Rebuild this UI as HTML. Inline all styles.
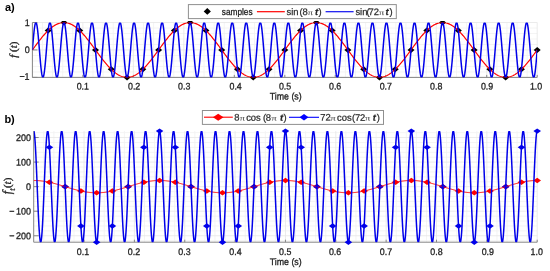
<!DOCTYPE html><html><head><meta charset="utf-8"><style>html,body{margin:0;padding:0;background:#fff;overflow:hidden}svg{display:block}</style></head><body>
<svg width="550" height="271" viewBox="0 0 550 271">
<rect width="550" height="271" fill="#fff"/>
<line x1="42.50" y1="22.50" x2="42.50" y2="77.40" stroke="#f1f1f1" stroke-width="0.8" />
<line x1="52.59" y1="22.50" x2="52.59" y2="77.40" stroke="#f1f1f1" stroke-width="0.8" />
<line x1="62.69" y1="22.50" x2="62.69" y2="77.40" stroke="#f1f1f1" stroke-width="0.8" />
<line x1="72.78" y1="22.50" x2="72.78" y2="77.40" stroke="#f1f1f1" stroke-width="0.8" />
<line x1="92.98" y1="22.50" x2="92.98" y2="77.40" stroke="#f1f1f1" stroke-width="0.8" />
<line x1="103.07" y1="22.50" x2="103.07" y2="77.40" stroke="#f1f1f1" stroke-width="0.8" />
<line x1="113.17" y1="22.50" x2="113.17" y2="77.40" stroke="#f1f1f1" stroke-width="0.8" />
<line x1="123.26" y1="22.50" x2="123.26" y2="77.40" stroke="#f1f1f1" stroke-width="0.8" />
<line x1="143.46" y1="22.50" x2="143.46" y2="77.40" stroke="#f1f1f1" stroke-width="0.8" />
<line x1="153.55" y1="22.50" x2="153.55" y2="77.40" stroke="#f1f1f1" stroke-width="0.8" />
<line x1="163.65" y1="22.50" x2="163.65" y2="77.40" stroke="#f1f1f1" stroke-width="0.8" />
<line x1="173.74" y1="22.50" x2="173.74" y2="77.40" stroke="#f1f1f1" stroke-width="0.8" />
<line x1="193.94" y1="22.50" x2="193.94" y2="77.40" stroke="#f1f1f1" stroke-width="0.8" />
<line x1="204.03" y1="22.50" x2="204.03" y2="77.40" stroke="#f1f1f1" stroke-width="0.8" />
<line x1="214.13" y1="22.50" x2="214.13" y2="77.40" stroke="#f1f1f1" stroke-width="0.8" />
<line x1="224.22" y1="22.50" x2="224.22" y2="77.40" stroke="#f1f1f1" stroke-width="0.8" />
<line x1="244.42" y1="22.50" x2="244.42" y2="77.40" stroke="#f1f1f1" stroke-width="0.8" />
<line x1="254.51" y1="22.50" x2="254.51" y2="77.40" stroke="#f1f1f1" stroke-width="0.8" />
<line x1="264.61" y1="22.50" x2="264.61" y2="77.40" stroke="#f1f1f1" stroke-width="0.8" />
<line x1="274.70" y1="22.50" x2="274.70" y2="77.40" stroke="#f1f1f1" stroke-width="0.8" />
<line x1="294.90" y1="22.50" x2="294.90" y2="77.40" stroke="#f1f1f1" stroke-width="0.8" />
<line x1="304.99" y1="22.50" x2="304.99" y2="77.40" stroke="#f1f1f1" stroke-width="0.8" />
<line x1="315.09" y1="22.50" x2="315.09" y2="77.40" stroke="#f1f1f1" stroke-width="0.8" />
<line x1="325.18" y1="22.50" x2="325.18" y2="77.40" stroke="#f1f1f1" stroke-width="0.8" />
<line x1="345.38" y1="22.50" x2="345.38" y2="77.40" stroke="#f1f1f1" stroke-width="0.8" />
<line x1="355.47" y1="22.50" x2="355.47" y2="77.40" stroke="#f1f1f1" stroke-width="0.8" />
<line x1="365.57" y1="22.50" x2="365.57" y2="77.40" stroke="#f1f1f1" stroke-width="0.8" />
<line x1="375.66" y1="22.50" x2="375.66" y2="77.40" stroke="#f1f1f1" stroke-width="0.8" />
<line x1="395.86" y1="22.50" x2="395.86" y2="77.40" stroke="#f1f1f1" stroke-width="0.8" />
<line x1="405.95" y1="22.50" x2="405.95" y2="77.40" stroke="#f1f1f1" stroke-width="0.8" />
<line x1="416.05" y1="22.50" x2="416.05" y2="77.40" stroke="#f1f1f1" stroke-width="0.8" />
<line x1="426.14" y1="22.50" x2="426.14" y2="77.40" stroke="#f1f1f1" stroke-width="0.8" />
<line x1="446.34" y1="22.50" x2="446.34" y2="77.40" stroke="#f1f1f1" stroke-width="0.8" />
<line x1="456.43" y1="22.50" x2="456.43" y2="77.40" stroke="#f1f1f1" stroke-width="0.8" />
<line x1="466.53" y1="22.50" x2="466.53" y2="77.40" stroke="#f1f1f1" stroke-width="0.8" />
<line x1="476.62" y1="22.50" x2="476.62" y2="77.40" stroke="#f1f1f1" stroke-width="0.8" />
<line x1="496.82" y1="22.50" x2="496.82" y2="77.40" stroke="#f1f1f1" stroke-width="0.8" />
<line x1="506.91" y1="22.50" x2="506.91" y2="77.40" stroke="#f1f1f1" stroke-width="0.8" />
<line x1="517.01" y1="22.50" x2="517.01" y2="77.40" stroke="#f1f1f1" stroke-width="0.8" />
<line x1="527.10" y1="22.50" x2="527.10" y2="77.40" stroke="#f1f1f1" stroke-width="0.8" />
<line x1="32.40" y1="71.91" x2="537.20" y2="71.91" stroke="#f1f1f1" stroke-width="0.8" />
<line x1="32.40" y1="66.42" x2="537.20" y2="66.42" stroke="#f1f1f1" stroke-width="0.8" />
<line x1="32.40" y1="60.93" x2="537.20" y2="60.93" stroke="#f1f1f1" stroke-width="0.8" />
<line x1="32.40" y1="55.44" x2="537.20" y2="55.44" stroke="#f1f1f1" stroke-width="0.8" />
<line x1="32.40" y1="44.46" x2="537.20" y2="44.46" stroke="#f1f1f1" stroke-width="0.8" />
<line x1="32.40" y1="38.97" x2="537.20" y2="38.97" stroke="#f1f1f1" stroke-width="0.8" />
<line x1="32.40" y1="33.48" x2="537.20" y2="33.48" stroke="#f1f1f1" stroke-width="0.8" />
<line x1="32.40" y1="27.99" x2="537.20" y2="27.99" stroke="#f1f1f1" stroke-width="0.8" />
<line x1="82.88" y1="22.50" x2="82.88" y2="77.40" stroke="#e6e6e6" stroke-width="0.8" />
<line x1="133.36" y1="22.50" x2="133.36" y2="77.40" stroke="#e6e6e6" stroke-width="0.8" />
<line x1="183.84" y1="22.50" x2="183.84" y2="77.40" stroke="#e6e6e6" stroke-width="0.8" />
<line x1="234.32" y1="22.50" x2="234.32" y2="77.40" stroke="#e6e6e6" stroke-width="0.8" />
<line x1="284.80" y1="22.50" x2="284.80" y2="77.40" stroke="#e6e6e6" stroke-width="0.8" />
<line x1="335.28" y1="22.50" x2="335.28" y2="77.40" stroke="#e6e6e6" stroke-width="0.8" />
<line x1="385.76" y1="22.50" x2="385.76" y2="77.40" stroke="#e6e6e6" stroke-width="0.8" />
<line x1="436.24" y1="22.50" x2="436.24" y2="77.40" stroke="#e6e6e6" stroke-width="0.8" />
<line x1="486.72" y1="22.50" x2="486.72" y2="77.40" stroke="#e6e6e6" stroke-width="0.8" />
<line x1="537.20" y1="22.50" x2="537.20" y2="77.40" stroke="#e6e6e6" stroke-width="0.8" />
<line x1="32.40" y1="22.50" x2="537.20" y2="22.50" stroke="#e6e6e6" stroke-width="0.8" />
<line x1="32.40" y1="49.95" x2="537.20" y2="49.95" stroke="#e6e6e6" stroke-width="0.8" />
<line x1="32.40" y1="77.40" x2="537.20" y2="77.40" stroke="#e6e6e6" stroke-width="0.8" />
<path d="M32.40,22.50 V77.40 H537.20" fill="none" stroke="#868686" stroke-width="1"/>
<line x1="82.88" y1="77.40" x2="82.88" y2="74.90" stroke="#868686" stroke-width="1" />
<line x1="133.36" y1="77.40" x2="133.36" y2="74.90" stroke="#868686" stroke-width="1" />
<line x1="183.84" y1="77.40" x2="183.84" y2="74.90" stroke="#868686" stroke-width="1" />
<line x1="234.32" y1="77.40" x2="234.32" y2="74.90" stroke="#868686" stroke-width="1" />
<line x1="284.80" y1="77.40" x2="284.80" y2="74.90" stroke="#868686" stroke-width="1" />
<line x1="335.28" y1="77.40" x2="335.28" y2="74.90" stroke="#868686" stroke-width="1" />
<line x1="385.76" y1="77.40" x2="385.76" y2="74.90" stroke="#868686" stroke-width="1" />
<line x1="436.24" y1="77.40" x2="436.24" y2="74.90" stroke="#868686" stroke-width="1" />
<line x1="486.72" y1="77.40" x2="486.72" y2="74.90" stroke="#868686" stroke-width="1" />
<line x1="537.20" y1="77.40" x2="537.20" y2="74.90" stroke="#868686" stroke-width="1" />
<line x1="32.40" y1="22.50" x2="37.40" y2="22.50" stroke="#868686" stroke-width="1" />
<line x1="32.40" y1="49.95" x2="37.40" y2="49.95" stroke="#868686" stroke-width="1" />
<line x1="32.40" y1="77.40" x2="37.40" y2="77.40" stroke="#868686" stroke-width="1" />
<clipPath id="ct"><rect x="26.40" y="21.00" width="516.80" height="60.90"/></clipPath>
<g clip-path="url(#ct)">
<polygon points="48.17,27.54 51.67,30.54 48.17,33.54 44.67,30.54" fill="#000"/>
<polygon points="63.95,19.50 67.45,22.50 63.95,25.50 60.45,22.50" fill="#000"/>
<polygon points="79.72,27.54 83.22,30.54 79.72,33.54 76.22,30.54" fill="#000"/>
<polygon points="95.50,46.95 99.00,49.95 95.50,52.95 92.00,49.95" fill="#000"/>
<polygon points="111.28,66.36 114.78,69.36 111.28,72.36 107.78,69.36" fill="#000"/>
<polygon points="127.05,74.40 130.55,77.40 127.05,80.40 123.55,77.40" fill="#000"/>
<polygon points="142.83,66.36 146.33,69.36 142.83,72.36 139.33,69.36" fill="#000"/>
<polygon points="158.60,46.95 162.10,49.95 158.60,52.95 155.10,49.95" fill="#000"/>
<polygon points="174.38,27.54 177.88,30.54 174.38,33.54 170.88,30.54" fill="#000"/>
<polygon points="190.15,19.50 193.65,22.50 190.15,25.50 186.65,22.50" fill="#000"/>
<polygon points="205.93,27.54 209.43,30.54 205.93,33.54 202.43,30.54" fill="#000"/>
<polygon points="221.70,46.95 225.20,49.95 221.70,52.95 218.20,49.95" fill="#000"/>
<polygon points="237.48,66.36 240.98,69.36 237.48,72.36 233.98,69.36" fill="#000"/>
<polygon points="253.25,74.40 256.75,77.40 253.25,80.40 249.75,77.40" fill="#000"/>
<polygon points="269.03,66.36 272.53,69.36 269.03,72.36 265.53,69.36" fill="#000"/>
<polygon points="284.80,46.95 288.30,49.95 284.80,52.95 281.30,49.95" fill="#000"/>
<polygon points="300.57,27.54 304.07,30.54 300.57,33.54 297.07,30.54" fill="#000"/>
<polygon points="316.35,19.50 319.85,22.50 316.35,25.50 312.85,22.50" fill="#000"/>
<polygon points="332.12,27.54 335.62,30.54 332.12,33.54 328.62,30.54" fill="#000"/>
<polygon points="347.90,46.95 351.40,49.95 347.90,52.95 344.40,49.95" fill="#000"/>
<polygon points="363.68,66.36 367.18,69.36 363.68,72.36 360.18,69.36" fill="#000"/>
<polygon points="379.45,74.40 382.95,77.40 379.45,80.40 375.95,77.40" fill="#000"/>
<polygon points="395.23,66.36 398.73,69.36 395.23,72.36 391.73,69.36" fill="#000"/>
<polygon points="411.00,46.95 414.50,49.95 411.00,52.95 407.50,49.95" fill="#000"/>
<polygon points="426.78,27.54 430.28,30.54 426.78,33.54 423.28,30.54" fill="#000"/>
<polygon points="442.55,19.50 446.05,22.50 442.55,25.50 439.05,22.50" fill="#000"/>
<polygon points="458.33,27.54 461.83,30.54 458.33,33.54 454.83,30.54" fill="#000"/>
<polygon points="474.10,46.95 477.60,49.95 474.10,52.95 470.60,49.95" fill="#000"/>
<polygon points="489.88,66.36 493.38,69.36 489.88,72.36 486.38,69.36" fill="#000"/>
<polygon points="505.65,74.40 509.15,77.40 505.65,80.40 502.15,77.40" fill="#000"/>
<polygon points="521.43,66.36 524.93,69.36 521.43,72.36 517.93,69.36" fill="#000"/>
<polygon points="537.20,46.95 540.70,49.95 537.20,52.95 533.70,49.95" fill="#000"/>
</g>
<clipPath id="ctl"><rect x="32.40" y="22.50" width="504.80" height="54.90"/></clipPath>
<g clip-path="url(#ctl)">
<polyline fill="none" stroke="#ff0000" stroke-width="1.2" points="32.40,49.95 33.03,49.09 33.66,48.23 34.29,47.37 34.92,46.51 35.55,45.66 36.19,44.81 36.82,43.96 37.45,43.12 38.08,42.29 38.71,41.47 39.34,40.65 39.97,39.84 40.60,39.05 41.23,38.26 41.87,37.49 42.50,36.73 43.13,35.98 43.76,35.24 44.39,34.52 45.02,33.82 45.65,33.13 46.28,32.45 46.91,31.80 47.54,31.16 48.17,30.54 48.81,29.94 49.44,29.36 50.07,28.80 50.70,28.26 51.33,27.74 51.96,27.25 52.59,26.77 53.22,26.32 53.85,25.90 54.48,25.49 55.12,25.11 55.75,24.76 56.38,24.43 57.01,24.12 57.64,23.84 58.27,23.59 58.90,23.36 59.53,23.16 60.16,22.99 60.80,22.84 61.43,22.72 62.06,22.62 62.69,22.55 63.32,22.51 63.95,22.50 64.58,22.51 65.21,22.55 65.84,22.62 66.47,22.72 67.11,22.84 67.74,22.99 68.37,23.16 69.00,23.36 69.63,23.59 70.26,23.84 70.89,24.12 71.52,24.43 72.15,24.76 72.78,25.11 73.42,25.49 74.05,25.90 74.68,26.32 75.31,26.77 75.94,27.25 76.57,27.74 77.20,28.26 77.83,28.80 78.46,29.36 79.09,29.94 79.72,30.54 80.36,31.16 80.99,31.80 81.62,32.45 82.25,33.13 82.88,33.82 83.51,34.52 84.14,35.24 84.77,35.98 85.40,36.73 86.03,37.49 86.67,38.26 87.30,39.05 87.93,39.84 88.56,40.65 89.19,41.47 89.82,42.29 90.45,43.12 91.08,43.96 91.71,44.81 92.34,45.66 92.98,46.51 93.61,47.37 94.24,48.23 94.87,49.09 95.50,49.95 96.13,50.81 96.76,51.67 97.39,52.53 98.02,53.39 98.66,54.24 99.29,55.09 99.92,55.94 100.55,56.78 101.18,57.61 101.81,58.43 102.44,59.25 103.07,60.06 103.70,60.85 104.33,61.64 104.97,62.41 105.60,63.17 106.23,63.92 106.86,64.66 107.49,65.38 108.12,66.08 108.75,66.77 109.38,67.45 110.01,68.10 110.64,68.74 111.28,69.36 111.91,69.96 112.54,70.54 113.17,71.10 113.80,71.64 114.43,72.16 115.06,72.65 115.69,73.13 116.32,73.58 116.95,74.00 117.59,74.41 118.22,74.79 118.85,75.14 119.48,75.47 120.11,75.78 120.74,76.06 121.37,76.31 122.00,76.54 122.63,76.74 123.26,76.91 123.90,77.06 124.53,77.18 125.16,77.28 125.79,77.35 126.42,77.39 127.05,77.40 127.68,77.39 128.31,77.35 128.94,77.28 129.57,77.18 130.21,77.06 130.84,76.91 131.47,76.74 132.10,76.54 132.73,76.31 133.36,76.06 133.99,75.78 134.62,75.47 135.25,75.14 135.88,74.79 136.52,74.41 137.15,74.00 137.78,73.58 138.41,73.13 139.04,72.65 139.67,72.16 140.30,71.64 140.93,71.10 141.56,70.54 142.19,69.96 142.83,69.36 143.46,68.74 144.09,68.10 144.72,67.45 145.35,66.77 145.98,66.08 146.61,65.38 147.24,64.66 147.87,63.92 148.50,63.17 149.14,62.41 149.77,61.64 150.40,60.85 151.03,60.06 151.66,59.25 152.29,58.43 152.92,57.61 153.55,56.78 154.18,55.94 154.81,55.09 155.45,54.24 156.08,53.39 156.71,52.53 157.34,51.67 157.97,50.81 158.60,49.95 159.23,49.09 159.86,48.23 160.49,47.37 161.12,46.51 161.76,45.66 162.39,44.81 163.02,43.96 163.65,43.12 164.28,42.29 164.91,41.47 165.54,40.65 166.17,39.84 166.80,39.05 167.43,38.26 168.07,37.49 168.70,36.73 169.33,35.98 169.96,35.24 170.59,34.52 171.22,33.82 171.85,33.13 172.48,32.45 173.11,31.80 173.74,31.16 174.38,30.54 175.01,29.94 175.64,29.36 176.27,28.80 176.90,28.26 177.53,27.74 178.16,27.25 178.79,26.77 179.42,26.32 180.05,25.90 180.69,25.49 181.32,25.11 181.95,24.76 182.58,24.43 183.21,24.12 183.84,23.84 184.47,23.59 185.10,23.36 185.73,23.16 186.36,22.99 187.00,22.84 187.63,22.72 188.26,22.62 188.89,22.55 189.52,22.51 190.15,22.50 190.78,22.51 191.41,22.55 192.04,22.62 192.67,22.72 193.31,22.84 193.94,22.99 194.57,23.16 195.20,23.36 195.83,23.59 196.46,23.84 197.09,24.12 197.72,24.43 198.35,24.76 198.98,25.11 199.62,25.49 200.25,25.90 200.88,26.32 201.51,26.77 202.14,27.25 202.77,27.74 203.40,28.26 204.03,28.80 204.66,29.36 205.29,29.94 205.93,30.54 206.56,31.16 207.19,31.80 207.82,32.45 208.45,33.13 209.08,33.82 209.71,34.52 210.34,35.24 210.97,35.98 211.60,36.73 212.24,37.49 212.87,38.26 213.50,39.05 214.13,39.84 214.76,40.65 215.39,41.47 216.02,42.29 216.65,43.12 217.28,43.96 217.91,44.81 218.55,45.66 219.18,46.51 219.81,47.37 220.44,48.23 221.07,49.09 221.70,49.95 222.33,50.81 222.96,51.67 223.59,52.53 224.22,53.39 224.86,54.24 225.49,55.09 226.12,55.94 226.75,56.78 227.38,57.61 228.01,58.43 228.64,59.25 229.27,60.06 229.90,60.85 230.53,61.64 231.17,62.41 231.80,63.17 232.43,63.92 233.06,64.66 233.69,65.38 234.32,66.08 234.95,66.77 235.58,67.45 236.21,68.10 236.84,68.74 237.48,69.36 238.11,69.96 238.74,70.54 239.37,71.10 240.00,71.64 240.63,72.16 241.26,72.65 241.89,73.13 242.52,73.58 243.15,74.00 243.79,74.41 244.42,74.79 245.05,75.14 245.68,75.47 246.31,75.78 246.94,76.06 247.57,76.31 248.20,76.54 248.83,76.74 249.46,76.91 250.10,77.06 250.73,77.18 251.36,77.28 251.99,77.35 252.62,77.39 253.25,77.40 253.88,77.39 254.51,77.35 255.14,77.28 255.77,77.18 256.41,77.06 257.04,76.91 257.67,76.74 258.30,76.54 258.93,76.31 259.56,76.06 260.19,75.78 260.82,75.47 261.45,75.14 262.08,74.79 262.72,74.41 263.35,74.00 263.98,73.58 264.61,73.13 265.24,72.65 265.87,72.16 266.50,71.64 267.13,71.10 267.76,70.54 268.39,69.96 269.03,69.36 269.66,68.74 270.29,68.10 270.92,67.45 271.55,66.77 272.18,66.08 272.81,65.38 273.44,64.66 274.07,63.92 274.70,63.17 275.34,62.41 275.97,61.64 276.60,60.85 277.23,60.06 277.86,59.25 278.49,58.43 279.12,57.61 279.75,56.78 280.38,55.94 281.01,55.09 281.65,54.24 282.28,53.39 282.91,52.53 283.54,51.67 284.17,50.81 284.80,49.95 285.43,49.09 286.06,48.23 286.69,47.37 287.32,46.51 287.96,45.66 288.59,44.81 289.22,43.96 289.85,43.12 290.48,42.29 291.11,41.47 291.74,40.65 292.37,39.84 293.00,39.05 293.63,38.26 294.27,37.49 294.90,36.73 295.53,35.98 296.16,35.24 296.79,34.52 297.42,33.82 298.05,33.13 298.68,32.45 299.31,31.80 299.94,31.16 300.57,30.54 301.21,29.94 301.84,29.36 302.47,28.80 303.10,28.26 303.73,27.74 304.36,27.25 304.99,26.77 305.62,26.32 306.25,25.90 306.88,25.49 307.52,25.11 308.15,24.76 308.78,24.43 309.41,24.12 310.04,23.84 310.67,23.59 311.30,23.36 311.93,23.16 312.56,22.99 313.20,22.84 313.83,22.72 314.46,22.62 315.09,22.55 315.72,22.51 316.35,22.50 316.98,22.51 317.61,22.55 318.24,22.62 318.87,22.72 319.50,22.84 320.14,22.99 320.77,23.16 321.40,23.36 322.03,23.59 322.66,23.84 323.29,24.12 323.92,24.43 324.55,24.76 325.18,25.11 325.82,25.49 326.45,25.90 327.08,26.32 327.71,26.77 328.34,27.25 328.97,27.74 329.60,28.26 330.23,28.80 330.86,29.36 331.49,29.94 332.12,30.54 332.76,31.16 333.39,31.80 334.02,32.45 334.65,33.13 335.28,33.82 335.91,34.52 336.54,35.24 337.17,35.98 337.80,36.73 338.44,37.49 339.07,38.26 339.70,39.05 340.33,39.84 340.96,40.65 341.59,41.47 342.22,42.29 342.85,43.12 343.48,43.96 344.11,44.81 344.75,45.66 345.38,46.51 346.01,47.37 346.64,48.23 347.27,49.09 347.90,49.95 348.53,50.81 349.16,51.67 349.79,52.53 350.42,53.39 351.06,54.24 351.69,55.09 352.32,55.94 352.95,56.78 353.58,57.61 354.21,58.43 354.84,59.25 355.47,60.06 356.10,60.85 356.73,61.64 357.37,62.41 358.00,63.17 358.63,63.92 359.26,64.66 359.89,65.38 360.52,66.08 361.15,66.77 361.78,67.45 362.41,68.10 363.04,68.74 363.68,69.36 364.31,69.96 364.94,70.54 365.57,71.10 366.20,71.64 366.83,72.16 367.46,72.65 368.09,73.13 368.72,73.58 369.35,74.00 369.99,74.41 370.62,74.79 371.25,75.14 371.88,75.47 372.51,75.78 373.14,76.06 373.77,76.31 374.40,76.54 375.03,76.74 375.66,76.91 376.30,77.06 376.93,77.18 377.56,77.28 378.19,77.35 378.82,77.39 379.45,77.40 380.08,77.39 380.71,77.35 381.34,77.28 381.97,77.18 382.61,77.06 383.24,76.91 383.87,76.74 384.50,76.54 385.13,76.31 385.76,76.06 386.39,75.78 387.02,75.47 387.65,75.14 388.28,74.79 388.92,74.41 389.55,74.00 390.18,73.58 390.81,73.13 391.44,72.65 392.07,72.16 392.70,71.64 393.33,71.10 393.96,70.54 394.59,69.96 395.23,69.36 395.86,68.74 396.49,68.10 397.12,67.45 397.75,66.77 398.38,66.08 399.01,65.38 399.64,64.66 400.27,63.92 400.90,63.17 401.54,62.41 402.17,61.64 402.80,60.85 403.43,60.06 404.06,59.25 404.69,58.43 405.32,57.61 405.95,56.78 406.58,55.94 407.21,55.09 407.85,54.24 408.48,53.39 409.11,52.53 409.74,51.67 410.37,50.81 411.00,49.95 411.63,49.09 412.26,48.23 412.89,47.37 413.52,46.51 414.16,45.66 414.79,44.81 415.42,43.96 416.05,43.12 416.68,42.29 417.31,41.47 417.94,40.65 418.57,39.84 419.20,39.05 419.83,38.26 420.47,37.49 421.10,36.73 421.73,35.98 422.36,35.24 422.99,34.52 423.62,33.82 424.25,33.13 424.88,32.45 425.51,31.80 426.14,31.16 426.78,30.54 427.41,29.94 428.04,29.36 428.67,28.80 429.30,28.26 429.93,27.74 430.56,27.25 431.19,26.77 431.82,26.32 432.45,25.90 433.09,25.49 433.72,25.11 434.35,24.76 434.98,24.43 435.61,24.12 436.24,23.84 436.87,23.59 437.50,23.36 438.13,23.16 438.76,22.99 439.40,22.84 440.03,22.72 440.66,22.62 441.29,22.55 441.92,22.51 442.55,22.50 443.18,22.51 443.81,22.55 444.44,22.62 445.07,22.72 445.71,22.84 446.34,22.99 446.97,23.16 447.60,23.36 448.23,23.59 448.86,23.84 449.49,24.12 450.12,24.43 450.75,24.76 451.38,25.11 452.02,25.49 452.65,25.90 453.28,26.32 453.91,26.77 454.54,27.25 455.17,27.74 455.80,28.26 456.43,28.80 457.06,29.36 457.69,29.94 458.33,30.54 458.96,31.16 459.59,31.80 460.22,32.45 460.85,33.13 461.48,33.82 462.11,34.52 462.74,35.24 463.37,35.98 464.00,36.73 464.63,37.49 465.27,38.26 465.90,39.05 466.53,39.84 467.16,40.65 467.79,41.47 468.42,42.29 469.05,43.12 469.68,43.96 470.31,44.81 470.95,45.66 471.58,46.51 472.21,47.37 472.84,48.23 473.47,49.09 474.10,49.95 474.73,50.81 475.36,51.67 475.99,52.53 476.62,53.39 477.26,54.24 477.89,55.09 478.52,55.94 479.15,56.78 479.78,57.61 480.41,58.43 481.04,59.25 481.67,60.06 482.30,60.85 482.93,61.64 483.57,62.41 484.20,63.17 484.83,63.92 485.46,64.66 486.09,65.38 486.72,66.08 487.35,66.77 487.98,67.45 488.61,68.10 489.24,68.74 489.88,69.36 490.51,69.96 491.14,70.54 491.77,71.10 492.40,71.64 493.03,72.16 493.66,72.65 494.29,73.13 494.92,73.58 495.55,74.00 496.19,74.41 496.82,74.79 497.45,75.14 498.08,75.47 498.71,75.78 499.34,76.06 499.97,76.31 500.60,76.54 501.23,76.74 501.86,76.91 502.50,77.06 503.13,77.18 503.76,77.28 504.39,77.35 505.02,77.39 505.65,77.40 506.28,77.39 506.91,77.35 507.54,77.28 508.17,77.18 508.81,77.06 509.44,76.91 510.07,76.74 510.70,76.54 511.33,76.31 511.96,76.06 512.59,75.78 513.22,75.47 513.85,75.14 514.48,74.79 515.12,74.41 515.75,74.00 516.38,73.58 517.01,73.13 517.64,72.65 518.27,72.16 518.90,71.64 519.53,71.10 520.16,70.54 520.79,69.96 521.43,69.36 522.06,68.74 522.69,68.10 523.32,67.45 523.95,66.77 524.58,66.08 525.21,65.38 525.84,64.66 526.47,63.92 527.10,63.17 527.74,62.41 528.37,61.64 529.00,60.85 529.63,60.06 530.26,59.25 530.89,58.43 531.52,57.61 532.15,56.78 532.78,55.94 533.41,55.09 534.05,54.24 534.68,53.39 535.31,52.53 535.94,51.67 536.57,50.81 537.20,49.95"/>
<polyline fill="none" stroke="#0000ea" stroke-width="1.5" stroke-linejoin="round" points="32.40,49.95 32.57,47.88 32.74,45.83 32.90,43.79 33.07,41.80 33.24,39.84 33.41,37.95 33.58,36.13 33.75,34.38 33.91,32.72 34.08,31.16 34.25,29.71 34.42,28.37 34.59,27.15 34.76,26.06 34.92,25.11 35.09,24.30 35.26,23.64 35.43,23.12 35.60,22.76 35.77,22.55 35.93,22.50 36.10,22.61 36.27,22.87 36.44,23.28 36.61,23.84 36.77,24.56 36.94,25.41 37.11,26.41 37.28,27.54 37.45,28.80 37.62,30.18 37.78,31.67 37.95,33.26 38.12,34.95 38.29,36.73 38.46,38.58 38.63,40.49 38.79,42.46 38.96,44.47 39.13,46.51 39.30,48.57 39.47,50.64 39.64,52.70 39.80,54.75 39.97,56.78 40.14,58.76 40.31,60.69 40.48,62.57 40.65,64.37 40.81,66.08 40.98,67.71 41.15,69.24 41.32,70.65 41.49,71.95 41.65,73.13 41.82,74.17 41.99,75.07 42.16,75.84 42.33,76.45 42.50,76.91 42.66,77.22 42.83,77.38 43.00,77.38 43.17,77.22 43.34,76.91 43.51,76.45 43.67,75.84 43.84,75.07 44.01,74.17 44.18,73.13 44.35,71.95 44.52,70.65 44.68,69.24 44.85,67.71 45.02,66.08 45.19,64.37 45.36,62.57 45.52,60.69 45.69,58.76 45.86,56.78 46.03,54.75 46.20,52.70 46.37,50.64 46.53,48.57 46.70,46.51 46.87,44.47 47.04,42.46 47.21,40.49 47.38,38.58 47.54,36.73 47.71,34.95 47.88,33.26 48.05,31.67 48.22,30.18 48.39,28.80 48.55,27.54 48.72,26.41 48.89,25.41 49.06,24.56 49.23,23.84 49.39,23.28 49.56,22.87 49.73,22.61 49.90,22.50 50.07,22.55 50.24,22.76 50.40,23.12 50.57,23.64 50.74,24.30 50.91,25.11 51.08,26.06 51.25,27.15 51.41,28.37 51.58,29.71 51.75,31.16 51.92,32.72 52.09,34.38 52.26,36.13 52.42,37.95 52.59,39.84 52.76,41.80 52.93,43.79 53.10,45.83 53.27,47.88 53.43,49.95 53.60,52.02 53.77,54.07 53.94,56.11 54.11,58.10 54.27,60.06 54.44,61.95 54.61,63.77 54.78,65.52 54.95,67.18 55.12,68.74 55.28,70.19 55.45,71.53 55.62,72.75 55.79,73.84 55.96,74.79 56.13,75.60 56.29,76.26 56.46,76.78 56.63,77.14 56.80,77.35 56.97,77.40 57.14,77.29 57.30,77.03 57.47,76.62 57.64,76.06 57.81,75.34 57.98,74.49 58.14,73.49 58.31,72.36 58.48,71.10 58.65,69.72 58.82,68.23 58.99,66.64 59.15,64.95 59.32,63.17 59.49,61.32 59.66,59.41 59.83,57.44 60.00,55.43 60.16,53.39 60.33,51.33 60.50,49.26 60.67,47.20 60.84,45.15 61.01,43.12 61.17,41.14 61.34,39.21 61.51,37.33 61.68,35.53 61.85,33.82 62.01,32.19 62.18,30.66 62.35,29.25 62.52,27.95 62.69,26.77 62.86,25.73 63.02,24.83 63.19,24.06 63.36,23.45 63.53,22.99 63.70,22.68 63.87,22.52 64.03,22.52 64.20,22.68 64.37,22.99 64.54,23.45 64.71,24.06 64.88,24.83 65.04,25.73 65.21,26.77 65.38,27.95 65.55,29.25 65.72,30.66 65.89,32.19 66.05,33.82 66.22,35.53 66.39,37.33 66.56,39.21 66.73,41.14 66.89,43.12 67.06,45.15 67.23,47.20 67.40,49.26 67.57,51.33 67.74,53.39 67.90,55.43 68.07,57.44 68.24,59.41 68.41,61.32 68.58,63.17 68.75,64.95 68.91,66.64 69.08,68.23 69.25,69.72 69.42,71.10 69.59,72.36 69.76,73.49 69.92,74.49 70.09,75.34 70.26,76.06 70.43,76.62 70.60,77.03 70.76,77.29 70.93,77.40 71.10,77.35 71.27,77.14 71.44,76.78 71.61,76.26 71.77,75.60 71.94,74.79 72.11,73.84 72.28,72.75 72.45,71.53 72.62,70.19 72.78,68.74 72.95,67.18 73.12,65.52 73.29,63.77 73.46,61.95 73.63,60.06 73.79,58.10 73.96,56.11 74.13,54.07 74.30,52.02 74.47,49.95 74.63,47.88 74.80,45.83 74.97,43.79 75.14,41.80 75.31,39.84 75.48,37.95 75.64,36.13 75.81,34.38 75.98,32.72 76.15,31.16 76.32,29.71 76.49,28.37 76.65,27.15 76.82,26.06 76.99,25.11 77.16,24.30 77.33,23.64 77.50,23.12 77.66,22.76 77.83,22.55 78.00,22.50 78.17,22.61 78.34,22.87 78.51,23.28 78.67,23.84 78.84,24.56 79.01,25.41 79.18,26.41 79.35,27.54 79.51,28.80 79.68,30.18 79.85,31.67 80.02,33.26 80.19,34.95 80.36,36.73 80.52,38.58 80.69,40.49 80.86,42.46 81.03,44.47 81.20,46.51 81.37,48.57 81.53,50.64 81.70,52.70 81.87,54.75 82.04,56.78 82.21,58.76 82.38,60.69 82.54,62.57 82.71,64.37 82.88,66.08 83.05,67.71 83.22,69.24 83.38,70.65 83.55,71.95 83.72,73.13 83.89,74.17 84.06,75.07 84.23,75.84 84.39,76.45 84.56,76.91 84.73,77.22 84.90,77.38 85.07,77.38 85.24,77.22 85.40,76.91 85.57,76.45 85.74,75.84 85.91,75.07 86.08,74.17 86.25,73.13 86.41,71.95 86.58,70.65 86.75,69.24 86.92,67.71 87.09,66.08 87.25,64.37 87.42,62.57 87.59,60.69 87.76,58.76 87.93,56.78 88.10,54.75 88.26,52.70 88.43,50.64 88.60,48.57 88.77,46.51 88.94,44.47 89.11,42.46 89.27,40.49 89.44,38.58 89.61,36.73 89.78,34.95 89.95,33.26 90.12,31.67 90.28,30.18 90.45,28.80 90.62,27.54 90.79,26.41 90.96,25.41 91.13,24.56 91.29,23.84 91.46,23.28 91.63,22.87 91.80,22.61 91.97,22.50 92.13,22.55 92.30,22.76 92.47,23.12 92.64,23.64 92.81,24.30 92.98,25.11 93.14,26.06 93.31,27.15 93.48,28.37 93.65,29.71 93.82,31.16 93.99,32.72 94.15,34.38 94.32,36.13 94.49,37.95 94.66,39.84 94.83,41.80 95.00,43.79 95.16,45.83 95.33,47.88 95.50,49.95 95.67,52.02 95.84,54.07 96.00,56.11 96.17,58.10 96.34,60.06 96.51,61.95 96.68,63.77 96.85,65.52 97.01,67.18 97.18,68.74 97.35,70.19 97.52,71.53 97.69,72.75 97.86,73.84 98.02,74.79 98.19,75.60 98.36,76.26 98.53,76.78 98.70,77.14 98.87,77.35 99.03,77.40 99.20,77.29 99.37,77.03 99.54,76.62 99.71,76.06 99.87,75.34 100.04,74.49 100.21,73.49 100.38,72.36 100.55,71.10 100.72,69.72 100.88,68.23 101.05,66.64 101.22,64.95 101.39,63.17 101.56,61.32 101.73,59.41 101.89,57.44 102.06,55.43 102.23,53.39 102.40,51.33 102.57,49.26 102.74,47.20 102.90,45.15 103.07,43.12 103.24,41.14 103.41,39.21 103.58,37.33 103.75,35.53 103.91,33.82 104.08,32.19 104.25,30.66 104.42,29.25 104.59,27.95 104.75,26.77 104.92,25.73 105.09,24.83 105.26,24.06 105.43,23.45 105.60,22.99 105.76,22.68 105.93,22.52 106.10,22.52 106.27,22.68 106.44,22.99 106.61,23.45 106.77,24.06 106.94,24.83 107.11,25.73 107.28,26.77 107.45,27.95 107.62,29.25 107.78,30.66 107.95,32.19 108.12,33.82 108.29,35.53 108.46,37.33 108.62,39.21 108.79,41.14 108.96,43.12 109.13,45.15 109.30,47.20 109.47,49.26 109.63,51.33 109.80,53.39 109.97,55.43 110.14,57.44 110.31,59.41 110.48,61.32 110.64,63.17 110.81,64.95 110.98,66.64 111.15,68.23 111.32,69.72 111.49,71.10 111.65,72.36 111.82,73.49 111.99,74.49 112.16,75.34 112.33,76.06 112.49,76.62 112.66,77.03 112.83,77.29 113.00,77.40 113.17,77.35 113.34,77.14 113.50,76.78 113.67,76.26 113.84,75.60 114.01,74.79 114.18,73.84 114.35,72.75 114.51,71.53 114.68,70.19 114.85,68.74 115.02,67.18 115.19,65.52 115.36,63.77 115.52,61.95 115.69,60.06 115.86,58.10 116.03,56.11 116.20,54.07 116.37,52.02 116.53,49.95 116.70,47.88 116.87,45.83 117.04,43.79 117.21,41.80 117.37,39.84 117.54,37.95 117.71,36.13 117.88,34.38 118.05,32.72 118.22,31.16 118.38,29.71 118.55,28.37 118.72,27.15 118.89,26.06 119.06,25.11 119.23,24.30 119.39,23.64 119.56,23.12 119.73,22.76 119.90,22.55 120.07,22.50 120.24,22.61 120.40,22.87 120.57,23.28 120.74,23.84 120.91,24.56 121.08,25.41 121.24,26.41 121.41,27.54 121.58,28.80 121.75,30.18 121.92,31.67 122.09,33.26 122.25,34.95 122.42,36.73 122.59,38.58 122.76,40.49 122.93,42.46 123.10,44.47 123.26,46.51 123.43,48.57 123.60,50.64 123.77,52.70 123.94,54.75 124.11,56.78 124.27,58.76 124.44,60.69 124.61,62.57 124.78,64.37 124.95,66.08 125.11,67.71 125.28,69.24 125.45,70.65 125.62,71.95 125.79,73.13 125.96,74.17 126.12,75.07 126.29,75.84 126.46,76.45 126.63,76.91 126.80,77.22 126.97,77.38 127.13,77.38 127.30,77.22 127.47,76.91 127.64,76.45 127.81,75.84 127.98,75.07 128.14,74.17 128.31,73.13 128.48,71.95 128.65,70.65 128.82,69.24 128.99,67.71 129.15,66.08 129.32,64.37 129.49,62.57 129.66,60.69 129.83,58.76 129.99,56.78 130.16,54.75 130.33,52.70 130.50,50.64 130.67,48.57 130.84,46.51 131.00,44.47 131.17,42.46 131.34,40.49 131.51,38.58 131.68,36.73 131.85,34.95 132.01,33.26 132.18,31.67 132.35,30.18 132.52,28.80 132.69,27.54 132.86,26.41 133.02,25.41 133.19,24.56 133.36,23.84 133.53,23.28 133.70,22.87 133.86,22.61 134.03,22.50 134.20,22.55 134.37,22.76 134.54,23.12 134.71,23.64 134.87,24.30 135.04,25.11 135.21,26.06 135.38,27.15 135.55,28.37 135.72,29.71 135.88,31.16 136.05,32.72 136.22,34.38 136.39,36.13 136.56,37.95 136.73,39.84 136.89,41.80 137.06,43.79 137.23,45.83 137.40,47.88 137.57,49.95 137.73,52.02 137.90,54.07 138.07,56.11 138.24,58.10 138.41,60.06 138.58,61.95 138.74,63.77 138.91,65.52 139.08,67.18 139.25,68.74 139.42,70.19 139.59,71.53 139.75,72.75 139.92,73.84 140.09,74.79 140.26,75.60 140.43,76.26 140.60,76.78 140.76,77.14 140.93,77.35 141.10,77.40 141.27,77.29 141.44,77.03 141.61,76.62 141.77,76.06 141.94,75.34 142.11,74.49 142.28,73.49 142.45,72.36 142.61,71.10 142.78,69.72 142.95,68.23 143.12,66.64 143.29,64.95 143.46,63.17 143.62,61.32 143.79,59.41 143.96,57.44 144.13,55.43 144.30,53.39 144.47,51.33 144.63,49.26 144.80,47.20 144.97,45.15 145.14,43.12 145.31,41.14 145.48,39.21 145.64,37.33 145.81,35.53 145.98,33.82 146.15,32.19 146.32,30.66 146.48,29.25 146.65,27.95 146.82,26.77 146.99,25.73 147.16,24.83 147.33,24.06 147.49,23.45 147.66,22.99 147.83,22.68 148.00,22.52 148.17,22.52 148.34,22.68 148.50,22.99 148.67,23.45 148.84,24.06 149.01,24.83 149.18,25.73 149.35,26.77 149.51,27.95 149.68,29.25 149.85,30.66 150.02,32.19 150.19,33.82 150.35,35.53 150.52,37.33 150.69,39.21 150.86,41.14 151.03,43.12 151.20,45.15 151.36,47.20 151.53,49.26 151.70,51.33 151.87,53.39 152.04,55.43 152.21,57.44 152.37,59.41 152.54,61.32 152.71,63.17 152.88,64.95 153.05,66.64 153.22,68.23 153.38,69.72 153.55,71.10 153.72,72.36 153.89,73.49 154.06,74.49 154.23,75.34 154.39,76.06 154.56,76.62 154.73,77.03 154.90,77.29 155.07,77.40 155.23,77.35 155.40,77.14 155.57,76.78 155.74,76.26 155.91,75.60 156.08,74.79 156.24,73.84 156.41,72.75 156.58,71.53 156.75,70.19 156.92,68.74 157.09,67.18 157.25,65.52 157.42,63.77 157.59,61.95 157.76,60.06 157.93,58.10 158.10,56.11 158.26,54.07 158.43,52.02 158.60,49.95 158.77,47.88 158.94,45.83 159.10,43.79 159.27,41.80 159.44,39.84 159.61,37.95 159.78,36.13 159.95,34.38 160.11,32.72 160.28,31.16 160.45,29.71 160.62,28.37 160.79,27.15 160.96,26.06 161.12,25.11 161.29,24.30 161.46,23.64 161.63,23.12 161.80,22.76 161.97,22.55 162.13,22.50 162.30,22.61 162.47,22.87 162.64,23.28 162.81,23.84 162.97,24.56 163.14,25.41 163.31,26.41 163.48,27.54 163.65,28.80 163.82,30.18 163.98,31.67 164.15,33.26 164.32,34.95 164.49,36.73 164.66,38.58 164.83,40.49 164.99,42.46 165.16,44.47 165.33,46.51 165.50,48.57 165.67,50.64 165.84,52.70 166.00,54.75 166.17,56.78 166.34,58.76 166.51,60.69 166.68,62.57 166.85,64.37 167.01,66.08 167.18,67.71 167.35,69.24 167.52,70.65 167.69,71.95 167.85,73.13 168.02,74.17 168.19,75.07 168.36,75.84 168.53,76.45 168.70,76.91 168.86,77.22 169.03,77.38 169.20,77.38 169.37,77.22 169.54,76.91 169.71,76.45 169.87,75.84 170.04,75.07 170.21,74.17 170.38,73.13 170.55,71.95 170.72,70.65 170.88,69.24 171.05,67.71 171.22,66.08 171.39,64.37 171.56,62.57 171.72,60.69 171.89,58.76 172.06,56.78 172.23,54.75 172.40,52.70 172.57,50.64 172.73,48.57 172.90,46.51 173.07,44.47 173.24,42.46 173.41,40.49 173.58,38.58 173.74,36.73 173.91,34.95 174.08,33.26 174.25,31.67 174.42,30.18 174.59,28.80 174.75,27.54 174.92,26.41 175.09,25.41 175.26,24.56 175.43,23.84 175.59,23.28 175.76,22.87 175.93,22.61 176.10,22.50 176.27,22.55 176.44,22.76 176.60,23.12 176.77,23.64 176.94,24.30 177.11,25.11 177.28,26.06 177.45,27.15 177.61,28.37 177.78,29.71 177.95,31.16 178.12,32.72 178.29,34.38 178.46,36.13 178.62,37.95 178.79,39.84 178.96,41.80 179.13,43.79 179.30,45.83 179.47,47.88 179.63,49.95 179.80,52.02 179.97,54.07 180.14,56.11 180.31,58.10 180.47,60.06 180.64,61.95 180.81,63.77 180.98,65.52 181.15,67.18 181.32,68.74 181.48,70.19 181.65,71.53 181.82,72.75 181.99,73.84 182.16,74.79 182.33,75.60 182.49,76.26 182.66,76.78 182.83,77.14 183.00,77.35 183.17,77.40 183.34,77.29 183.50,77.03 183.67,76.62 183.84,76.06 184.01,75.34 184.18,74.49 184.34,73.49 184.51,72.36 184.68,71.10 184.85,69.72 185.02,68.23 185.19,66.64 185.35,64.95 185.52,63.17 185.69,61.32 185.86,59.41 186.03,57.44 186.20,55.43 186.36,53.39 186.53,51.33 186.70,49.26 186.87,47.20 187.04,45.15 187.21,43.12 187.37,41.14 187.54,39.21 187.71,37.33 187.88,35.53 188.05,33.82 188.21,32.19 188.38,30.66 188.55,29.25 188.72,27.95 188.89,26.77 189.06,25.73 189.22,24.83 189.39,24.06 189.56,23.45 189.73,22.99 189.90,22.68 190.07,22.52 190.23,22.52 190.40,22.68 190.57,22.99 190.74,23.45 190.91,24.06 191.08,24.83 191.24,25.73 191.41,26.77 191.58,27.95 191.75,29.25 191.92,30.66 192.09,32.19 192.25,33.82 192.42,35.53 192.59,37.33 192.76,39.21 192.93,41.14 193.09,43.12 193.26,45.15 193.43,47.20 193.60,49.26 193.77,51.33 193.94,53.39 194.10,55.43 194.27,57.44 194.44,59.41 194.61,61.32 194.78,63.17 194.95,64.95 195.11,66.64 195.28,68.23 195.45,69.72 195.62,71.10 195.79,72.36 195.96,73.49 196.12,74.49 196.29,75.34 196.46,76.06 196.63,76.62 196.80,77.03 196.96,77.29 197.13,77.40 197.30,77.35 197.47,77.14 197.64,76.78 197.81,76.26 197.97,75.60 198.14,74.79 198.31,73.84 198.48,72.75 198.65,71.53 198.82,70.19 198.98,68.74 199.15,67.18 199.32,65.52 199.49,63.77 199.66,61.95 199.83,60.06 199.99,58.10 200.16,56.11 200.33,54.07 200.50,52.02 200.67,49.95 200.83,47.88 201.00,45.83 201.17,43.79 201.34,41.80 201.51,39.84 201.68,37.95 201.84,36.13 202.01,34.38 202.18,32.72 202.35,31.16 202.52,29.71 202.69,28.37 202.85,27.15 203.02,26.06 203.19,25.11 203.36,24.30 203.53,23.64 203.70,23.12 203.86,22.76 204.03,22.55 204.20,22.50 204.37,22.61 204.54,22.87 204.71,23.28 204.87,23.84 205.04,24.56 205.21,25.41 205.38,26.41 205.55,27.54 205.71,28.80 205.88,30.18 206.05,31.67 206.22,33.26 206.39,34.95 206.56,36.73 206.72,38.58 206.89,40.49 207.06,42.46 207.23,44.47 207.40,46.51 207.57,48.57 207.73,50.64 207.90,52.70 208.07,54.75 208.24,56.78 208.41,58.76 208.58,60.69 208.74,62.57 208.91,64.37 209.08,66.08 209.25,67.71 209.42,69.24 209.58,70.65 209.75,71.95 209.92,73.13 210.09,74.17 210.26,75.07 210.43,75.84 210.59,76.45 210.76,76.91 210.93,77.22 211.10,77.38 211.27,77.38 211.44,77.22 211.60,76.91 211.77,76.45 211.94,75.84 212.11,75.07 212.28,74.17 212.45,73.13 212.61,71.95 212.78,70.65 212.95,69.24 213.12,67.71 213.29,66.08 213.45,64.37 213.62,62.57 213.79,60.69 213.96,58.76 214.13,56.78 214.30,54.75 214.46,52.70 214.63,50.64 214.80,48.57 214.97,46.51 215.14,44.47 215.31,42.46 215.47,40.49 215.64,38.58 215.81,36.73 215.98,34.95 216.15,33.26 216.32,31.67 216.48,30.18 216.65,28.80 216.82,27.54 216.99,26.41 217.16,25.41 217.33,24.56 217.49,23.84 217.66,23.28 217.83,22.87 218.00,22.61 218.17,22.50 218.33,22.55 218.50,22.76 218.67,23.12 218.84,23.64 219.01,24.30 219.18,25.11 219.34,26.06 219.51,27.15 219.68,28.37 219.85,29.71 220.02,31.16 220.19,32.72 220.35,34.38 220.52,36.13 220.69,37.95 220.86,39.84 221.03,41.80 221.20,43.79 221.36,45.83 221.53,47.88 221.70,49.95 221.87,52.02 222.04,54.07 222.20,56.11 222.37,58.10 222.54,60.06 222.71,61.95 222.88,63.77 223.05,65.52 223.21,67.18 223.38,68.74 223.55,70.19 223.72,71.53 223.89,72.75 224.06,73.84 224.22,74.79 224.39,75.60 224.56,76.26 224.73,76.78 224.90,77.14 225.07,77.35 225.23,77.40 225.40,77.29 225.57,77.03 225.74,76.62 225.91,76.06 226.07,75.34 226.24,74.49 226.41,73.49 226.58,72.36 226.75,71.10 226.92,69.72 227.08,68.23 227.25,66.64 227.42,64.95 227.59,63.17 227.76,61.32 227.93,59.41 228.09,57.44 228.26,55.43 228.43,53.39 228.60,51.33 228.77,49.26 228.94,47.20 229.10,45.15 229.27,43.12 229.44,41.14 229.61,39.21 229.78,37.33 229.95,35.53 230.11,33.82 230.28,32.19 230.45,30.66 230.62,29.25 230.79,27.95 230.95,26.77 231.12,25.73 231.29,24.83 231.46,24.06 231.63,23.45 231.80,22.99 231.96,22.68 232.13,22.52 232.30,22.52 232.47,22.68 232.64,22.99 232.81,23.45 232.97,24.06 233.14,24.83 233.31,25.73 233.48,26.77 233.65,27.95 233.82,29.25 233.98,30.66 234.15,32.19 234.32,33.82 234.49,35.53 234.66,37.33 234.82,39.21 234.99,41.14 235.16,43.12 235.33,45.15 235.50,47.20 235.67,49.26 235.83,51.33 236.00,53.39 236.17,55.43 236.34,57.44 236.51,59.41 236.68,61.32 236.84,63.17 237.01,64.95 237.18,66.64 237.35,68.23 237.52,69.72 237.69,71.10 237.85,72.36 238.02,73.49 238.19,74.49 238.36,75.34 238.53,76.06 238.69,76.62 238.86,77.03 239.03,77.29 239.20,77.40 239.37,77.35 239.54,77.14 239.70,76.78 239.87,76.26 240.04,75.60 240.21,74.79 240.38,73.84 240.55,72.75 240.71,71.53 240.88,70.19 241.05,68.74 241.22,67.18 241.39,65.52 241.56,63.77 241.72,61.95 241.89,60.06 242.06,58.10 242.23,56.11 242.40,54.07 242.57,52.02 242.73,49.95 242.90,47.88 243.07,45.83 243.24,43.79 243.41,41.80 243.57,39.84 243.74,37.95 243.91,36.13 244.08,34.38 244.25,32.72 244.42,31.16 244.58,29.71 244.75,28.37 244.92,27.15 245.09,26.06 245.26,25.11 245.43,24.30 245.59,23.64 245.76,23.12 245.93,22.76 246.10,22.55 246.27,22.50 246.44,22.61 246.60,22.87 246.77,23.28 246.94,23.84 247.11,24.56 247.28,25.41 247.44,26.41 247.61,27.54 247.78,28.80 247.95,30.18 248.12,31.67 248.29,33.26 248.45,34.95 248.62,36.73 248.79,38.58 248.96,40.49 249.13,42.46 249.30,44.47 249.46,46.51 249.63,48.57 249.80,50.64 249.97,52.70 250.14,54.75 250.31,56.78 250.47,58.76 250.64,60.69 250.81,62.57 250.98,64.37 251.15,66.08 251.31,67.71 251.48,69.24 251.65,70.65 251.82,71.95 251.99,73.13 252.16,74.17 252.32,75.07 252.49,75.84 252.66,76.45 252.83,76.91 253.00,77.22 253.17,77.38 253.33,77.38 253.50,77.22 253.67,76.91 253.84,76.45 254.01,75.84 254.18,75.07 254.34,74.17 254.51,73.13 254.68,71.95 254.85,70.65 255.02,69.24 255.19,67.71 255.35,66.08 255.52,64.37 255.69,62.57 255.86,60.69 256.03,58.76 256.19,56.78 256.36,54.75 256.53,52.70 256.70,50.64 256.87,48.57 257.04,46.51 257.20,44.47 257.37,42.46 257.54,40.49 257.71,38.58 257.88,36.73 258.05,34.95 258.21,33.26 258.38,31.67 258.55,30.18 258.72,28.80 258.89,27.54 259.06,26.41 259.22,25.41 259.39,24.56 259.56,23.84 259.73,23.28 259.90,22.87 260.06,22.61 260.23,22.50 260.40,22.55 260.57,22.76 260.74,23.12 260.91,23.64 261.07,24.30 261.24,25.11 261.41,26.06 261.58,27.15 261.75,28.37 261.92,29.71 262.08,31.16 262.25,32.72 262.42,34.38 262.59,36.13 262.76,37.95 262.93,39.84 263.09,41.80 263.26,43.79 263.43,45.83 263.60,47.88 263.77,49.95 263.93,52.02 264.10,54.07 264.27,56.11 264.44,58.10 264.61,60.06 264.78,61.95 264.94,63.77 265.11,65.52 265.28,67.18 265.45,68.74 265.62,70.19 265.79,71.53 265.95,72.75 266.12,73.84 266.29,74.79 266.46,75.60 266.63,76.26 266.80,76.78 266.96,77.14 267.13,77.35 267.30,77.40 267.47,77.29 267.64,77.03 267.81,76.62 267.97,76.06 268.14,75.34 268.31,74.49 268.48,73.49 268.65,72.36 268.81,71.10 268.98,69.72 269.15,68.23 269.32,66.64 269.49,64.95 269.66,63.17 269.82,61.32 269.99,59.41 270.16,57.44 270.33,55.43 270.50,53.39 270.67,51.33 270.83,49.26 271.00,47.20 271.17,45.15 271.34,43.12 271.51,41.14 271.68,39.21 271.84,37.33 272.01,35.53 272.18,33.82 272.35,32.19 272.52,30.66 272.68,29.25 272.85,27.95 273.02,26.77 273.19,25.73 273.36,24.83 273.53,24.06 273.69,23.45 273.86,22.99 274.03,22.68 274.20,22.52 274.37,22.52 274.54,22.68 274.70,22.99 274.87,23.45 275.04,24.06 275.21,24.83 275.38,25.73 275.55,26.77 275.71,27.95 275.88,29.25 276.05,30.66 276.22,32.19 276.39,33.82 276.55,35.53 276.72,37.33 276.89,39.21 277.06,41.14 277.23,43.12 277.40,45.15 277.56,47.20 277.73,49.26 277.90,51.33 278.07,53.39 278.24,55.43 278.41,57.44 278.57,59.41 278.74,61.32 278.91,63.17 279.08,64.95 279.25,66.64 279.42,68.23 279.58,69.72 279.75,71.10 279.92,72.36 280.09,73.49 280.26,74.49 280.43,75.34 280.59,76.06 280.76,76.62 280.93,77.03 281.10,77.29 281.27,77.40 281.43,77.35 281.60,77.14 281.77,76.78 281.94,76.26 282.11,75.60 282.28,74.79 282.44,73.84 282.61,72.75 282.78,71.53 282.95,70.19 283.12,68.74 283.29,67.18 283.45,65.52 283.62,63.77 283.79,61.95 283.96,60.06 284.13,58.10 284.30,56.11 284.46,54.07 284.63,52.02 284.80,49.95 284.97,47.88 285.14,45.83 285.30,43.79 285.47,41.80 285.64,39.84 285.81,37.95 285.98,36.13 286.15,34.38 286.31,32.72 286.48,31.16 286.65,29.71 286.82,28.37 286.99,27.15 287.16,26.06 287.32,25.11 287.49,24.30 287.66,23.64 287.83,23.12 288.00,22.76 288.17,22.55 288.33,22.50 288.50,22.61 288.67,22.87 288.84,23.28 289.01,23.84 289.17,24.56 289.34,25.41 289.51,26.41 289.68,27.54 289.85,28.80 290.02,30.18 290.18,31.67 290.35,33.26 290.52,34.95 290.69,36.73 290.86,38.58 291.03,40.49 291.19,42.46 291.36,44.47 291.53,46.51 291.70,48.57 291.87,50.64 292.04,52.70 292.20,54.75 292.37,56.78 292.54,58.76 292.71,60.69 292.88,62.57 293.05,64.37 293.21,66.08 293.38,67.71 293.55,69.24 293.72,70.65 293.89,71.95 294.05,73.13 294.22,74.17 294.39,75.07 294.56,75.84 294.73,76.45 294.90,76.91 295.06,77.22 295.23,77.38 295.40,77.38 295.57,77.22 295.74,76.91 295.91,76.45 296.07,75.84 296.24,75.07 296.41,74.17 296.58,73.13 296.75,71.95 296.92,70.65 297.08,69.24 297.25,67.71 297.42,66.08 297.59,64.37 297.76,62.57 297.92,60.69 298.09,58.76 298.26,56.78 298.43,54.75 298.60,52.70 298.77,50.64 298.93,48.57 299.10,46.51 299.27,44.47 299.44,42.46 299.61,40.49 299.78,38.58 299.94,36.73 300.11,34.95 300.28,33.26 300.45,31.67 300.62,30.18 300.79,28.80 300.95,27.54 301.12,26.41 301.29,25.41 301.46,24.56 301.63,23.84 301.79,23.28 301.96,22.87 302.13,22.61 302.30,22.50 302.47,22.55 302.64,22.76 302.80,23.12 302.97,23.64 303.14,24.30 303.31,25.11 303.48,26.06 303.65,27.15 303.81,28.37 303.98,29.71 304.15,31.16 304.32,32.72 304.49,34.38 304.66,36.13 304.82,37.95 304.99,39.84 305.16,41.80 305.33,43.79 305.50,45.83 305.67,47.88 305.83,49.95 306.00,52.02 306.17,54.07 306.34,56.11 306.51,58.10 306.67,60.06 306.84,61.95 307.01,63.77 307.18,65.52 307.35,67.18 307.52,68.74 307.68,70.19 307.85,71.53 308.02,72.75 308.19,73.84 308.36,74.79 308.53,75.60 308.69,76.26 308.86,76.78 309.03,77.14 309.20,77.35 309.37,77.40 309.54,77.29 309.70,77.03 309.87,76.62 310.04,76.06 310.21,75.34 310.38,74.49 310.54,73.49 310.71,72.36 310.88,71.10 311.05,69.72 311.22,68.23 311.39,66.64 311.55,64.95 311.72,63.17 311.89,61.32 312.06,59.41 312.23,57.44 312.40,55.43 312.56,53.39 312.73,51.33 312.90,49.26 313.07,47.20 313.24,45.15 313.41,43.12 313.57,41.14 313.74,39.21 313.91,37.33 314.08,35.53 314.25,33.82 314.41,32.19 314.58,30.66 314.75,29.25 314.92,27.95 315.09,26.77 315.26,25.73 315.42,24.83 315.59,24.06 315.76,23.45 315.93,22.99 316.10,22.68 316.27,22.52 316.43,22.52 316.60,22.68 316.77,22.99 316.94,23.45 317.11,24.06 317.28,24.83 317.44,25.73 317.61,26.77 317.78,27.95 317.95,29.25 318.12,30.66 318.29,32.19 318.45,33.82 318.62,35.53 318.79,37.33 318.96,39.21 319.13,41.14 319.29,43.12 319.46,45.15 319.63,47.20 319.80,49.26 319.97,51.33 320.14,53.39 320.30,55.43 320.47,57.44 320.64,59.41 320.81,61.32 320.98,63.17 321.15,64.95 321.31,66.64 321.48,68.23 321.65,69.72 321.82,71.10 321.99,72.36 322.16,73.49 322.32,74.49 322.49,75.34 322.66,76.06 322.83,76.62 323.00,77.03 323.16,77.29 323.33,77.40 323.50,77.35 323.67,77.14 323.84,76.78 324.01,76.26 324.17,75.60 324.34,74.79 324.51,73.84 324.68,72.75 324.85,71.53 325.02,70.19 325.18,68.74 325.35,67.18 325.52,65.52 325.69,63.77 325.86,61.95 326.03,60.06 326.19,58.10 326.36,56.11 326.53,54.07 326.70,52.02 326.87,49.95 327.03,47.88 327.20,45.83 327.37,43.79 327.54,41.80 327.71,39.84 327.88,37.95 328.04,36.13 328.21,34.38 328.38,32.72 328.55,31.16 328.72,29.71 328.89,28.37 329.05,27.15 329.22,26.06 329.39,25.11 329.56,24.30 329.73,23.64 329.90,23.12 330.06,22.76 330.23,22.55 330.40,22.50 330.57,22.61 330.74,22.87 330.91,23.28 331.07,23.84 331.24,24.56 331.41,25.41 331.58,26.41 331.75,27.54 331.91,28.80 332.08,30.18 332.25,31.67 332.42,33.26 332.59,34.95 332.76,36.73 332.92,38.58 333.09,40.49 333.26,42.46 333.43,44.47 333.60,46.51 333.77,48.57 333.93,50.64 334.10,52.70 334.27,54.75 334.44,56.78 334.61,58.76 334.78,60.69 334.94,62.57 335.11,64.37 335.28,66.08 335.45,67.71 335.62,69.24 335.78,70.65 335.95,71.95 336.12,73.13 336.29,74.17 336.46,75.07 336.63,75.84 336.79,76.45 336.96,76.91 337.13,77.22 337.30,77.38 337.47,77.38 337.64,77.22 337.80,76.91 337.97,76.45 338.14,75.84 338.31,75.07 338.48,74.17 338.65,73.13 338.81,71.95 338.98,70.65 339.15,69.24 339.32,67.71 339.49,66.08 339.65,64.37 339.82,62.57 339.99,60.69 340.16,58.76 340.33,56.78 340.50,54.75 340.66,52.70 340.83,50.64 341.00,48.57 341.17,46.51 341.34,44.47 341.51,42.46 341.67,40.49 341.84,38.58 342.01,36.73 342.18,34.95 342.35,33.26 342.52,31.67 342.68,30.18 342.85,28.80 343.02,27.54 343.19,26.41 343.36,25.41 343.53,24.56 343.69,23.84 343.86,23.28 344.03,22.87 344.20,22.61 344.37,22.50 344.53,22.55 344.70,22.76 344.87,23.12 345.04,23.64 345.21,24.30 345.38,25.11 345.54,26.06 345.71,27.15 345.88,28.37 346.05,29.71 346.22,31.16 346.39,32.72 346.55,34.38 346.72,36.13 346.89,37.95 347.06,39.84 347.23,41.80 347.40,43.79 347.56,45.83 347.73,47.88 347.90,49.95 348.07,52.02 348.24,54.07 348.40,56.11 348.57,58.10 348.74,60.06 348.91,61.95 349.08,63.77 349.25,65.52 349.41,67.18 349.58,68.74 349.75,70.19 349.92,71.53 350.09,72.75 350.26,73.84 350.42,74.79 350.59,75.60 350.76,76.26 350.93,76.78 351.10,77.14 351.27,77.35 351.43,77.40 351.60,77.29 351.77,77.03 351.94,76.62 352.11,76.06 352.27,75.34 352.44,74.49 352.61,73.49 352.78,72.36 352.95,71.10 353.12,69.72 353.28,68.23 353.45,66.64 353.62,64.95 353.79,63.17 353.96,61.32 354.13,59.41 354.29,57.44 354.46,55.43 354.63,53.39 354.80,51.33 354.97,49.26 355.14,47.20 355.30,45.15 355.47,43.12 355.64,41.14 355.81,39.21 355.98,37.33 356.15,35.53 356.31,33.82 356.48,32.19 356.65,30.66 356.82,29.25 356.99,27.95 357.15,26.77 357.32,25.73 357.49,24.83 357.66,24.06 357.83,23.45 358.00,22.99 358.16,22.68 358.33,22.52 358.50,22.52 358.67,22.68 358.84,22.99 359.01,23.45 359.17,24.06 359.34,24.83 359.51,25.73 359.68,26.77 359.85,27.95 360.02,29.25 360.18,30.66 360.35,32.19 360.52,33.82 360.69,35.53 360.86,37.33 361.02,39.21 361.19,41.14 361.36,43.12 361.53,45.15 361.70,47.20 361.87,49.26 362.03,51.33 362.20,53.39 362.37,55.43 362.54,57.44 362.71,59.41 362.88,61.32 363.04,63.17 363.21,64.95 363.38,66.64 363.55,68.23 363.72,69.72 363.89,71.10 364.05,72.36 364.22,73.49 364.39,74.49 364.56,75.34 364.73,76.06 364.89,76.62 365.06,77.03 365.23,77.29 365.40,77.40 365.57,77.35 365.74,77.14 365.90,76.78 366.07,76.26 366.24,75.60 366.41,74.79 366.58,73.84 366.75,72.75 366.91,71.53 367.08,70.19 367.25,68.74 367.42,67.18 367.59,65.52 367.76,63.77 367.92,61.95 368.09,60.06 368.26,58.10 368.43,56.11 368.60,54.07 368.77,52.02 368.93,49.95 369.10,47.88 369.27,45.83 369.44,43.79 369.61,41.80 369.77,39.84 369.94,37.95 370.11,36.13 370.28,34.38 370.45,32.72 370.62,31.16 370.78,29.71 370.95,28.37 371.12,27.15 371.29,26.06 371.46,25.11 371.63,24.30 371.79,23.64 371.96,23.12 372.13,22.76 372.30,22.55 372.47,22.50 372.64,22.61 372.80,22.87 372.97,23.28 373.14,23.84 373.31,24.56 373.48,25.41 373.64,26.41 373.81,27.54 373.98,28.80 374.15,30.18 374.32,31.67 374.49,33.26 374.65,34.95 374.82,36.73 374.99,38.58 375.16,40.49 375.33,42.46 375.50,44.47 375.66,46.51 375.83,48.57 376.00,50.64 376.17,52.70 376.34,54.75 376.51,56.78 376.67,58.76 376.84,60.69 377.01,62.57 377.18,64.37 377.35,66.08 377.51,67.71 377.68,69.24 377.85,70.65 378.02,71.95 378.19,73.13 378.36,74.17 378.52,75.07 378.69,75.84 378.86,76.45 379.03,76.91 379.20,77.22 379.37,77.38 379.53,77.38 379.70,77.22 379.87,76.91 380.04,76.45 380.21,75.84 380.38,75.07 380.54,74.17 380.71,73.13 380.88,71.95 381.05,70.65 381.22,69.24 381.39,67.71 381.55,66.08 381.72,64.37 381.89,62.57 382.06,60.69 382.23,58.76 382.39,56.78 382.56,54.75 382.73,52.70 382.90,50.64 383.07,48.57 383.24,46.51 383.40,44.47 383.57,42.46 383.74,40.49 383.91,38.58 384.08,36.73 384.25,34.95 384.41,33.26 384.58,31.67 384.75,30.18 384.92,28.80 385.09,27.54 385.26,26.41 385.42,25.41 385.59,24.56 385.76,23.84 385.93,23.28 386.10,22.87 386.26,22.61 386.43,22.50 386.60,22.55 386.77,22.76 386.94,23.12 387.11,23.64 387.27,24.30 387.44,25.11 387.61,26.06 387.78,27.15 387.95,28.37 388.12,29.71 388.28,31.16 388.45,32.72 388.62,34.38 388.79,36.13 388.96,37.95 389.13,39.84 389.29,41.80 389.46,43.79 389.63,45.83 389.80,47.88 389.97,49.95 390.13,52.02 390.30,54.07 390.47,56.11 390.64,58.10 390.81,60.06 390.98,61.95 391.14,63.77 391.31,65.52 391.48,67.18 391.65,68.74 391.82,70.19 391.99,71.53 392.15,72.75 392.32,73.84 392.49,74.79 392.66,75.60 392.83,76.26 393.00,76.78 393.16,77.14 393.33,77.35 393.50,77.40 393.67,77.29 393.84,77.03 394.01,76.62 394.17,76.06 394.34,75.34 394.51,74.49 394.68,73.49 394.85,72.36 395.01,71.10 395.18,69.72 395.35,68.23 395.52,66.64 395.69,64.95 395.86,63.17 396.02,61.32 396.19,59.41 396.36,57.44 396.53,55.43 396.70,53.39 396.87,51.33 397.03,49.26 397.20,47.20 397.37,45.15 397.54,43.12 397.71,41.14 397.88,39.21 398.04,37.33 398.21,35.53 398.38,33.82 398.55,32.19 398.72,30.66 398.88,29.25 399.05,27.95 399.22,26.77 399.39,25.73 399.56,24.83 399.73,24.06 399.89,23.45 400.06,22.99 400.23,22.68 400.40,22.52 400.57,22.52 400.74,22.68 400.90,22.99 401.07,23.45 401.24,24.06 401.41,24.83 401.58,25.73 401.75,26.77 401.91,27.95 402.08,29.25 402.25,30.66 402.42,32.19 402.59,33.82 402.75,35.53 402.92,37.33 403.09,39.21 403.26,41.14 403.43,43.12 403.60,45.15 403.76,47.20 403.93,49.26 404.10,51.33 404.27,53.39 404.44,55.43 404.61,57.44 404.77,59.41 404.94,61.32 405.11,63.17 405.28,64.95 405.45,66.64 405.62,68.23 405.78,69.72 405.95,71.10 406.12,72.36 406.29,73.49 406.46,74.49 406.63,75.34 406.79,76.06 406.96,76.62 407.13,77.03 407.30,77.29 407.47,77.40 407.63,77.35 407.80,77.14 407.97,76.78 408.14,76.26 408.31,75.60 408.48,74.79 408.64,73.84 408.81,72.75 408.98,71.53 409.15,70.19 409.32,68.74 409.49,67.18 409.65,65.52 409.82,63.77 409.99,61.95 410.16,60.06 410.33,58.10 410.50,56.11 410.66,54.07 410.83,52.02 411.00,49.95 411.17,47.88 411.34,45.83 411.50,43.79 411.67,41.80 411.84,39.84 412.01,37.95 412.18,36.13 412.35,34.38 412.51,32.72 412.68,31.16 412.85,29.71 413.02,28.37 413.19,27.15 413.36,26.06 413.52,25.11 413.69,24.30 413.86,23.64 414.03,23.12 414.20,22.76 414.37,22.55 414.53,22.50 414.70,22.61 414.87,22.87 415.04,23.28 415.21,23.84 415.37,24.56 415.54,25.41 415.71,26.41 415.88,27.54 416.05,28.80 416.22,30.18 416.38,31.67 416.55,33.26 416.72,34.95 416.89,36.73 417.06,38.58 417.23,40.49 417.39,42.46 417.56,44.47 417.73,46.51 417.90,48.57 418.07,50.64 418.24,52.70 418.40,54.75 418.57,56.78 418.74,58.76 418.91,60.69 419.08,62.57 419.25,64.37 419.41,66.08 419.58,67.71 419.75,69.24 419.92,70.65 420.09,71.95 420.25,73.13 420.42,74.17 420.59,75.07 420.76,75.84 420.93,76.45 421.10,76.91 421.26,77.22 421.43,77.38 421.60,77.38 421.77,77.22 421.94,76.91 422.11,76.45 422.27,75.84 422.44,75.07 422.61,74.17 422.78,73.13 422.95,71.95 423.12,70.65 423.28,69.24 423.45,67.71 423.62,66.08 423.79,64.37 423.96,62.57 424.12,60.69 424.29,58.76 424.46,56.78 424.63,54.75 424.80,52.70 424.97,50.64 425.13,48.57 425.30,46.51 425.47,44.47 425.64,42.46 425.81,40.49 425.98,38.58 426.14,36.73 426.31,34.95 426.48,33.26 426.65,31.67 426.82,30.18 426.99,28.80 427.15,27.54 427.32,26.41 427.49,25.41 427.66,24.56 427.83,23.84 427.99,23.28 428.16,22.87 428.33,22.61 428.50,22.50 428.67,22.55 428.84,22.76 429.00,23.12 429.17,23.64 429.34,24.30 429.51,25.11 429.68,26.06 429.85,27.15 430.01,28.37 430.18,29.71 430.35,31.16 430.52,32.72 430.69,34.38 430.86,36.13 431.02,37.95 431.19,39.84 431.36,41.80 431.53,43.79 431.70,45.83 431.87,47.88 432.03,49.95 432.20,52.02 432.37,54.07 432.54,56.11 432.71,58.10 432.87,60.06 433.04,61.95 433.21,63.77 433.38,65.52 433.55,67.18 433.72,68.74 433.88,70.19 434.05,71.53 434.22,72.75 434.39,73.84 434.56,74.79 434.73,75.60 434.89,76.26 435.06,76.78 435.23,77.14 435.40,77.35 435.57,77.40 435.74,77.29 435.90,77.03 436.07,76.62 436.24,76.06 436.41,75.34 436.58,74.49 436.74,73.49 436.91,72.36 437.08,71.10 437.25,69.72 437.42,68.23 437.59,66.64 437.75,64.95 437.92,63.17 438.09,61.32 438.26,59.41 438.43,57.44 438.60,55.43 438.76,53.39 438.93,51.33 439.10,49.26 439.27,47.20 439.44,45.15 439.61,43.12 439.77,41.14 439.94,39.21 440.11,37.33 440.28,35.53 440.45,33.82 440.61,32.19 440.78,30.66 440.95,29.25 441.12,27.95 441.29,26.77 441.46,25.73 441.62,24.83 441.79,24.06 441.96,23.45 442.13,22.99 442.30,22.68 442.47,22.52 442.63,22.52 442.80,22.68 442.97,22.99 443.14,23.45 443.31,24.06 443.48,24.83 443.64,25.73 443.81,26.77 443.98,27.95 444.15,29.25 444.32,30.66 444.49,32.19 444.65,33.82 444.82,35.53 444.99,37.33 445.16,39.21 445.33,41.14 445.49,43.12 445.66,45.15 445.83,47.20 446.00,49.26 446.17,51.33 446.34,53.39 446.50,55.43 446.67,57.44 446.84,59.41 447.01,61.32 447.18,63.17 447.35,64.95 447.51,66.64 447.68,68.23 447.85,69.72 448.02,71.10 448.19,72.36 448.36,73.49 448.52,74.49 448.69,75.34 448.86,76.06 449.03,76.62 449.20,77.03 449.36,77.29 449.53,77.40 449.70,77.35 449.87,77.14 450.04,76.78 450.21,76.26 450.37,75.60 450.54,74.79 450.71,73.84 450.88,72.75 451.05,71.53 451.22,70.19 451.38,68.74 451.55,67.18 451.72,65.52 451.89,63.77 452.06,61.95 452.23,60.06 452.39,58.10 452.56,56.11 452.73,54.07 452.90,52.02 453.07,49.95 453.23,47.88 453.40,45.83 453.57,43.79 453.74,41.80 453.91,39.84 454.08,37.95 454.24,36.13 454.41,34.38 454.58,32.72 454.75,31.16 454.92,29.71 455.09,28.37 455.25,27.15 455.42,26.06 455.59,25.11 455.76,24.30 455.93,23.64 456.10,23.12 456.26,22.76 456.43,22.55 456.60,22.50 456.77,22.61 456.94,22.87 457.11,23.28 457.27,23.84 457.44,24.56 457.61,25.41 457.78,26.41 457.95,27.54 458.11,28.80 458.28,30.18 458.45,31.67 458.62,33.26 458.79,34.95 458.96,36.73 459.12,38.58 459.29,40.49 459.46,42.46 459.63,44.47 459.80,46.51 459.97,48.57 460.13,50.64 460.30,52.70 460.47,54.75 460.64,56.78 460.81,58.76 460.98,60.69 461.14,62.57 461.31,64.37 461.48,66.08 461.65,67.71 461.82,69.24 461.98,70.65 462.15,71.95 462.32,73.13 462.49,74.17 462.66,75.07 462.83,75.84 462.99,76.45 463.16,76.91 463.33,77.22 463.50,77.38 463.67,77.38 463.84,77.22 464.00,76.91 464.17,76.45 464.34,75.84 464.51,75.07 464.68,74.17 464.85,73.13 465.01,71.95 465.18,70.65 465.35,69.24 465.52,67.71 465.69,66.08 465.85,64.37 466.02,62.57 466.19,60.69 466.36,58.76 466.53,56.78 466.70,54.75 466.86,52.70 467.03,50.64 467.20,48.57 467.37,46.51 467.54,44.47 467.71,42.46 467.87,40.49 468.04,38.58 468.21,36.73 468.38,34.95 468.55,33.26 468.72,31.67 468.88,30.18 469.05,28.80 469.22,27.54 469.39,26.41 469.56,25.41 469.73,24.56 469.89,23.84 470.06,23.28 470.23,22.87 470.40,22.61 470.57,22.50 470.73,22.55 470.90,22.76 471.07,23.12 471.24,23.64 471.41,24.30 471.58,25.11 471.74,26.06 471.91,27.15 472.08,28.37 472.25,29.71 472.42,31.16 472.59,32.72 472.75,34.38 472.92,36.13 473.09,37.95 473.26,39.84 473.43,41.80 473.60,43.79 473.76,45.83 473.93,47.88 474.10,49.95 474.27,52.02 474.44,54.07 474.60,56.11 474.77,58.10 474.94,60.06 475.11,61.95 475.28,63.77 475.45,65.52 475.61,67.18 475.78,68.74 475.95,70.19 476.12,71.53 476.29,72.75 476.46,73.84 476.62,74.79 476.79,75.60 476.96,76.26 477.13,76.78 477.30,77.14 477.47,77.35 477.63,77.40 477.80,77.29 477.97,77.03 478.14,76.62 478.31,76.06 478.47,75.34 478.64,74.49 478.81,73.49 478.98,72.36 479.15,71.10 479.32,69.72 479.48,68.23 479.65,66.64 479.82,64.95 479.99,63.17 480.16,61.32 480.33,59.41 480.49,57.44 480.66,55.43 480.83,53.39 481.00,51.33 481.17,49.26 481.34,47.20 481.50,45.15 481.67,43.12 481.84,41.14 482.01,39.21 482.18,37.33 482.35,35.53 482.51,33.82 482.68,32.19 482.85,30.66 483.02,29.25 483.19,27.95 483.35,26.77 483.52,25.73 483.69,24.83 483.86,24.06 484.03,23.45 484.20,22.99 484.36,22.68 484.53,22.52 484.70,22.52 484.87,22.68 485.04,22.99 485.21,23.45 485.37,24.06 485.54,24.83 485.71,25.73 485.88,26.77 486.05,27.95 486.22,29.25 486.38,30.66 486.55,32.19 486.72,33.82 486.89,35.53 487.06,37.33 487.22,39.21 487.39,41.14 487.56,43.12 487.73,45.15 487.90,47.20 488.07,49.26 488.23,51.33 488.40,53.39 488.57,55.43 488.74,57.44 488.91,59.41 489.08,61.32 489.24,63.17 489.41,64.95 489.58,66.64 489.75,68.23 489.92,69.72 490.09,71.10 490.25,72.36 490.42,73.49 490.59,74.49 490.76,75.34 490.93,76.06 491.09,76.62 491.26,77.03 491.43,77.29 491.60,77.40 491.77,77.35 491.94,77.14 492.10,76.78 492.27,76.26 492.44,75.60 492.61,74.79 492.78,73.84 492.95,72.75 493.11,71.53 493.28,70.19 493.45,68.74 493.62,67.18 493.79,65.52 493.96,63.77 494.12,61.95 494.29,60.06 494.46,58.10 494.63,56.11 494.80,54.07 494.97,52.02 495.13,49.95 495.30,47.88 495.47,45.83 495.64,43.79 495.81,41.80 495.97,39.84 496.14,37.95 496.31,36.13 496.48,34.38 496.65,32.72 496.82,31.16 496.98,29.71 497.15,28.37 497.32,27.15 497.49,26.06 497.66,25.11 497.83,24.30 497.99,23.64 498.16,23.12 498.33,22.76 498.50,22.55 498.67,22.50 498.84,22.61 499.00,22.87 499.17,23.28 499.34,23.84 499.51,24.56 499.68,25.41 499.84,26.41 500.01,27.54 500.18,28.80 500.35,30.18 500.52,31.67 500.69,33.26 500.85,34.95 501.02,36.73 501.19,38.58 501.36,40.49 501.53,42.46 501.70,44.47 501.86,46.51 502.03,48.57 502.20,50.64 502.37,52.70 502.54,54.75 502.71,56.78 502.87,58.76 503.04,60.69 503.21,62.57 503.38,64.37 503.55,66.08 503.71,67.71 503.88,69.24 504.05,70.65 504.22,71.95 504.39,73.13 504.56,74.17 504.72,75.07 504.89,75.84 505.06,76.45 505.23,76.91 505.40,77.22 505.57,77.38 505.73,77.38 505.90,77.22 506.07,76.91 506.24,76.45 506.41,75.84 506.58,75.07 506.74,74.17 506.91,73.13 507.08,71.95 507.25,70.65 507.42,69.24 507.59,67.71 507.75,66.08 507.92,64.37 508.09,62.57 508.26,60.69 508.43,58.76 508.59,56.78 508.76,54.75 508.93,52.70 509.10,50.64 509.27,48.57 509.44,46.51 509.60,44.47 509.77,42.46 509.94,40.49 510.11,38.58 510.28,36.73 510.45,34.95 510.61,33.26 510.78,31.67 510.95,30.18 511.12,28.80 511.29,27.54 511.46,26.41 511.62,25.41 511.79,24.56 511.96,23.84 512.13,23.28 512.30,22.87 512.46,22.61 512.63,22.50 512.80,22.55 512.97,22.76 513.14,23.12 513.31,23.64 513.47,24.30 513.64,25.11 513.81,26.06 513.98,27.15 514.15,28.37 514.32,29.71 514.48,31.16 514.65,32.72 514.82,34.38 514.99,36.13 515.16,37.95 515.33,39.84 515.49,41.80 515.66,43.79 515.83,45.83 516.00,47.88 516.17,49.95 516.33,52.02 516.50,54.07 516.67,56.11 516.84,58.10 517.01,60.06 517.18,61.95 517.34,63.77 517.51,65.52 517.68,67.18 517.85,68.74 518.02,70.19 518.19,71.53 518.35,72.75 518.52,73.84 518.69,74.79 518.86,75.60 519.03,76.26 519.20,76.78 519.36,77.14 519.53,77.35 519.70,77.40 519.87,77.29 520.04,77.03 520.21,76.62 520.37,76.06 520.54,75.34 520.71,74.49 520.88,73.49 521.05,72.36 521.21,71.10 521.38,69.72 521.55,68.23 521.72,66.64 521.89,64.95 522.06,63.17 522.22,61.32 522.39,59.41 522.56,57.44 522.73,55.43 522.90,53.39 523.07,51.33 523.23,49.26 523.40,47.20 523.57,45.15 523.74,43.12 523.91,41.14 524.08,39.21 524.24,37.33 524.41,35.53 524.58,33.82 524.75,32.19 524.92,30.66 525.08,29.25 525.25,27.95 525.42,26.77 525.59,25.73 525.76,24.83 525.93,24.06 526.09,23.45 526.26,22.99 526.43,22.68 526.60,22.52 526.77,22.52 526.94,22.68 527.10,22.99 527.27,23.45 527.44,24.06 527.61,24.83 527.78,25.73 527.95,26.77 528.11,27.95 528.28,29.25 528.45,30.66 528.62,32.19 528.79,33.82 528.95,35.53 529.12,37.33 529.29,39.21 529.46,41.14 529.63,43.12 529.80,45.15 529.96,47.20 530.13,49.26 530.30,51.33 530.47,53.39 530.64,55.43 530.81,57.44 530.97,59.41 531.14,61.32 531.31,63.17 531.48,64.95 531.65,66.64 531.82,68.23 531.98,69.72 532.15,71.10 532.32,72.36 532.49,73.49 532.66,74.49 532.83,75.34 532.99,76.06 533.16,76.62 533.33,77.03 533.50,77.29 533.67,77.40 533.83,77.35 534.00,77.14 534.17,76.78 534.34,76.26 534.51,75.60 534.68,74.79 534.84,73.84 535.01,72.75 535.18,71.53 535.35,70.19 535.52,68.74 535.69,67.18 535.85,65.52 536.02,63.77 536.19,61.95 536.36,60.06 536.53,58.10 536.70,56.11 536.86,54.07 537.03,52.02 537.20,49.95"/>
</g>
<text transform="translate(82.80,89.50) rotate(0.2) scale(0.920,1)" text-anchor="middle" font-family="'Liberation Sans', Arial, Helvetica, sans-serif" font-size="9.6" fill="#222" stroke="#222" stroke-width="0.3" >0.1</text>
<text transform="translate(134.11,89.50) rotate(0.2) scale(0.920,1)" text-anchor="middle" font-family="'Liberation Sans', Arial, Helvetica, sans-serif" font-size="9.6" fill="#222" stroke="#222" stroke-width="0.3" >0.2</text>
<text transform="translate(184.18,89.50) rotate(0.2) scale(0.920,1)" text-anchor="middle" font-family="'Liberation Sans', Arial, Helvetica, sans-serif" font-size="9.6" fill="#222" stroke="#222" stroke-width="0.3" >0.3</text>
<text transform="translate(235.63,89.50) rotate(0.2) scale(0.920,1)" text-anchor="middle" font-family="'Liberation Sans', Arial, Helvetica, sans-serif" font-size="9.6" fill="#222" stroke="#222" stroke-width="0.3" >0.4</text>
<text transform="translate(285.03,89.50) rotate(0.2) scale(0.920,1)" text-anchor="middle" font-family="'Liberation Sans', Arial, Helvetica, sans-serif" font-size="9.6" fill="#222" stroke="#222" stroke-width="0.3" >0.5</text>
<text transform="translate(335.10,89.50) rotate(0.2) scale(0.920,1)" text-anchor="middle" font-family="'Liberation Sans', Arial, Helvetica, sans-serif" font-size="9.6" fill="#222" stroke="#222" stroke-width="0.3" >0.6</text>
<text transform="translate(385.78,89.50) rotate(0.2) scale(0.920,1)" text-anchor="middle" font-family="'Liberation Sans', Arial, Helvetica, sans-serif" font-size="9.6" fill="#222" stroke="#222" stroke-width="0.3" >0.7</text>
<text transform="translate(436.25,89.50) rotate(0.2) scale(0.920,1)" text-anchor="middle" font-family="'Liberation Sans', Arial, Helvetica, sans-serif" font-size="9.6" fill="#222" stroke="#222" stroke-width="0.3" >0.8</text>
<text transform="translate(487.03,89.50) rotate(0.2) scale(0.920,1)" text-anchor="middle" font-family="'Liberation Sans', Arial, Helvetica, sans-serif" font-size="9.6" fill="#222" stroke="#222" stroke-width="0.3" >0.9</text>
<text transform="translate(536.06,89.50) rotate(0.2) scale(0.920,1)" text-anchor="middle" font-family="'Liberation Sans', Arial, Helvetica, sans-serif" font-size="9.6" fill="#222" stroke="#222" stroke-width="0.3" >1.0</text>
<text transform="translate(29.60,25.90) rotate(0.2) scale(0.930,1)" text-anchor="end" font-family="'Liberation Sans', Arial, Helvetica, sans-serif" font-size="9.6" fill="#222" stroke="#222" stroke-width="0.3" >1</text>
<text transform="translate(29.70,53.10) rotate(0.2) scale(0.930,1)" text-anchor="end" font-family="'Liberation Sans', Arial, Helvetica, sans-serif" font-size="9.6" fill="#222" stroke="#222" stroke-width="0.3" >0</text>
<text transform="translate(29.60,79.80) rotate(0.2) scale(0.930,1)" text-anchor="end" font-family="'Liberation Sans', Arial, Helvetica, sans-serif" font-size="9.6" fill="#222" stroke="#222" stroke-width="0.3" >&#8722;1</text>
<text transform="translate(285.75,99.50) rotate(0.2) scale(0.915,1)" text-anchor="middle" font-family="'Liberation Sans', Arial, Helvetica, sans-serif" font-size="9.6" fill="#222" stroke="#222" stroke-width="0.3" >Time (s)</text>
<text transform="translate(17.4,49.7) rotate(-90)" text-anchor="middle" font-family="'Liberation Serif', 'Times New Roman', serif" font-size="11" fill="#222" stroke="#222" stroke-width="0.3"><tspan font-style="italic">f</tspan> (<tspan font-style="italic">t</tspan>)</text>
<text x="5" y="10.8" font-family="'Liberation Sans', Arial, Helvetica, sans-serif" font-size="11" font-weight="bold" fill="#000">a)</text>
<rect x="188.4" y="4.6" width="207.9" height="14.0" fill="#fff" stroke="#8f8f8f" stroke-width="1"/>
<polygon points="207.30,8.10 210.90,11.40 207.30,14.70 203.70,11.40" fill="#000"/>
<text transform="translate(221.80,15.00) rotate(0.2) scale(0.880,1)" text-anchor="start" font-family="'Liberation Sans', Arial, Helvetica, sans-serif" font-size="9.4" fill="#222" stroke="#222" stroke-width="0.3" >samples</text>
<line x1="256.90" y1="11.70" x2="284.80" y2="11.70" stroke="#ff0000" stroke-width="1.2" />
<text y="15.00" transform="rotate(0.2,286.60,15.00)" font-family="'Liberation Sans', Arial, Helvetica, sans-serif" font-size="9.4" fill="#222" stroke="#333" stroke-width="0.25"><tspan x="286.60">sin</tspan><tspan x="299.50">(</tspan><tspan x="302.50">8</tspan><tspan x="314.90" font-style="italic" font-weight="bold">t</tspan><tspan x="318.50">)</tspan></text><text transform="translate(307.70,15.00) rotate(0.2) scale(1.08,0.8)" font-family="'Liberation Serif', 'Times New Roman', serif" font-size="9.6" fill="#555" stroke="#555" stroke-width="0.15">&#960;</text>
<line x1="325.60" y1="11.70" x2="353.60" y2="11.70" stroke="#1010f0" stroke-width="1.2" />
<text y="15.00" transform="rotate(0.2,355.40,15.00)" font-family="'Liberation Sans', Arial, Helvetica, sans-serif" font-size="9.4" fill="#222" stroke="#333" stroke-width="0.25"><tspan x="355.40">sin</tspan><tspan x="366.40">(</tspan><tspan x="368.60">72</tspan><tspan x="385.40" font-style="italic" font-weight="bold">t</tspan><tspan x="389.50">)</tspan></text><text transform="translate(379.10,15.00) rotate(0.2) scale(1.08,0.8)" font-family="'Liberation Serif', 'Times New Roman', serif" font-size="9.6" fill="#555" stroke="#555" stroke-width="0.15">&#960;</text>
<line x1="43.77" y1="131.10" x2="43.77" y2="242.20" stroke="#f1f1f1" stroke-width="0.8" />
<line x1="53.84" y1="131.10" x2="53.84" y2="242.20" stroke="#f1f1f1" stroke-width="0.8" />
<line x1="63.91" y1="131.10" x2="63.91" y2="242.20" stroke="#f1f1f1" stroke-width="0.8" />
<line x1="73.98" y1="131.10" x2="73.98" y2="242.20" stroke="#f1f1f1" stroke-width="0.8" />
<line x1="94.12" y1="131.10" x2="94.12" y2="242.20" stroke="#f1f1f1" stroke-width="0.8" />
<line x1="104.19" y1="131.10" x2="104.19" y2="242.20" stroke="#f1f1f1" stroke-width="0.8" />
<line x1="114.26" y1="131.10" x2="114.26" y2="242.20" stroke="#f1f1f1" stroke-width="0.8" />
<line x1="124.33" y1="131.10" x2="124.33" y2="242.20" stroke="#f1f1f1" stroke-width="0.8" />
<line x1="144.47" y1="131.10" x2="144.47" y2="242.20" stroke="#f1f1f1" stroke-width="0.8" />
<line x1="154.54" y1="131.10" x2="154.54" y2="242.20" stroke="#f1f1f1" stroke-width="0.8" />
<line x1="164.61" y1="131.10" x2="164.61" y2="242.20" stroke="#f1f1f1" stroke-width="0.8" />
<line x1="174.68" y1="131.10" x2="174.68" y2="242.20" stroke="#f1f1f1" stroke-width="0.8" />
<line x1="194.82" y1="131.10" x2="194.82" y2="242.20" stroke="#f1f1f1" stroke-width="0.8" />
<line x1="204.89" y1="131.10" x2="204.89" y2="242.20" stroke="#f1f1f1" stroke-width="0.8" />
<line x1="214.96" y1="131.10" x2="214.96" y2="242.20" stroke="#f1f1f1" stroke-width="0.8" />
<line x1="225.03" y1="131.10" x2="225.03" y2="242.20" stroke="#f1f1f1" stroke-width="0.8" />
<line x1="245.17" y1="131.10" x2="245.17" y2="242.20" stroke="#f1f1f1" stroke-width="0.8" />
<line x1="255.24" y1="131.10" x2="255.24" y2="242.20" stroke="#f1f1f1" stroke-width="0.8" />
<line x1="265.31" y1="131.10" x2="265.31" y2="242.20" stroke="#f1f1f1" stroke-width="0.8" />
<line x1="275.38" y1="131.10" x2="275.38" y2="242.20" stroke="#f1f1f1" stroke-width="0.8" />
<line x1="295.52" y1="131.10" x2="295.52" y2="242.20" stroke="#f1f1f1" stroke-width="0.8" />
<line x1="305.59" y1="131.10" x2="305.59" y2="242.20" stroke="#f1f1f1" stroke-width="0.8" />
<line x1="315.66" y1="131.10" x2="315.66" y2="242.20" stroke="#f1f1f1" stroke-width="0.8" />
<line x1="325.73" y1="131.10" x2="325.73" y2="242.20" stroke="#f1f1f1" stroke-width="0.8" />
<line x1="345.87" y1="131.10" x2="345.87" y2="242.20" stroke="#f1f1f1" stroke-width="0.8" />
<line x1="355.94" y1="131.10" x2="355.94" y2="242.20" stroke="#f1f1f1" stroke-width="0.8" />
<line x1="366.01" y1="131.10" x2="366.01" y2="242.20" stroke="#f1f1f1" stroke-width="0.8" />
<line x1="376.08" y1="131.10" x2="376.08" y2="242.20" stroke="#f1f1f1" stroke-width="0.8" />
<line x1="396.22" y1="131.10" x2="396.22" y2="242.20" stroke="#f1f1f1" stroke-width="0.8" />
<line x1="406.29" y1="131.10" x2="406.29" y2="242.20" stroke="#f1f1f1" stroke-width="0.8" />
<line x1="416.36" y1="131.10" x2="416.36" y2="242.20" stroke="#f1f1f1" stroke-width="0.8" />
<line x1="426.43" y1="131.10" x2="426.43" y2="242.20" stroke="#f1f1f1" stroke-width="0.8" />
<line x1="446.57" y1="131.10" x2="446.57" y2="242.20" stroke="#f1f1f1" stroke-width="0.8" />
<line x1="456.64" y1="131.10" x2="456.64" y2="242.20" stroke="#f1f1f1" stroke-width="0.8" />
<line x1="466.71" y1="131.10" x2="466.71" y2="242.20" stroke="#f1f1f1" stroke-width="0.8" />
<line x1="476.78" y1="131.10" x2="476.78" y2="242.20" stroke="#f1f1f1" stroke-width="0.8" />
<line x1="496.92" y1="131.10" x2="496.92" y2="242.20" stroke="#f1f1f1" stroke-width="0.8" />
<line x1="506.99" y1="131.10" x2="506.99" y2="242.20" stroke="#f1f1f1" stroke-width="0.8" />
<line x1="517.06" y1="131.10" x2="517.06" y2="242.20" stroke="#f1f1f1" stroke-width="0.8" />
<line x1="527.13" y1="131.10" x2="527.13" y2="242.20" stroke="#f1f1f1" stroke-width="0.8" />
<line x1="33.70" y1="240.68" x2="537.20" y2="240.68" stroke="#f1f1f1" stroke-width="0.8" />
<line x1="33.70" y1="230.86" x2="537.20" y2="230.86" stroke="#f1f1f1" stroke-width="0.8" />
<line x1="33.70" y1="225.95" x2="537.20" y2="225.95" stroke="#f1f1f1" stroke-width="0.8" />
<line x1="33.70" y1="221.03" x2="537.20" y2="221.03" stroke="#f1f1f1" stroke-width="0.8" />
<line x1="33.70" y1="216.12" x2="537.20" y2="216.12" stroke="#f1f1f1" stroke-width="0.8" />
<line x1="33.70" y1="206.30" x2="537.20" y2="206.30" stroke="#f1f1f1" stroke-width="0.8" />
<line x1="33.70" y1="201.39" x2="537.20" y2="201.39" stroke="#f1f1f1" stroke-width="0.8" />
<line x1="33.70" y1="196.47" x2="537.20" y2="196.47" stroke="#f1f1f1" stroke-width="0.8" />
<line x1="33.70" y1="191.56" x2="537.20" y2="191.56" stroke="#f1f1f1" stroke-width="0.8" />
<line x1="33.70" y1="181.74" x2="537.20" y2="181.74" stroke="#f1f1f1" stroke-width="0.8" />
<line x1="33.70" y1="176.83" x2="537.20" y2="176.83" stroke="#f1f1f1" stroke-width="0.8" />
<line x1="33.70" y1="171.91" x2="537.20" y2="171.91" stroke="#f1f1f1" stroke-width="0.8" />
<line x1="33.70" y1="167.00" x2="537.20" y2="167.00" stroke="#f1f1f1" stroke-width="0.8" />
<line x1="33.70" y1="157.18" x2="537.20" y2="157.18" stroke="#f1f1f1" stroke-width="0.8" />
<line x1="33.70" y1="152.27" x2="537.20" y2="152.27" stroke="#f1f1f1" stroke-width="0.8" />
<line x1="33.70" y1="147.35" x2="537.20" y2="147.35" stroke="#f1f1f1" stroke-width="0.8" />
<line x1="33.70" y1="142.44" x2="537.20" y2="142.44" stroke="#f1f1f1" stroke-width="0.8" />
<line x1="33.70" y1="132.62" x2="537.20" y2="132.62" stroke="#f1f1f1" stroke-width="0.8" />
<line x1="84.05" y1="131.10" x2="84.05" y2="242.20" stroke="#e6e6e6" stroke-width="0.8" />
<line x1="134.40" y1="131.10" x2="134.40" y2="242.20" stroke="#e6e6e6" stroke-width="0.8" />
<line x1="184.75" y1="131.10" x2="184.75" y2="242.20" stroke="#e6e6e6" stroke-width="0.8" />
<line x1="235.10" y1="131.10" x2="235.10" y2="242.20" stroke="#e6e6e6" stroke-width="0.8" />
<line x1="285.45" y1="131.10" x2="285.45" y2="242.20" stroke="#e6e6e6" stroke-width="0.8" />
<line x1="335.80" y1="131.10" x2="335.80" y2="242.20" stroke="#e6e6e6" stroke-width="0.8" />
<line x1="386.15" y1="131.10" x2="386.15" y2="242.20" stroke="#e6e6e6" stroke-width="0.8" />
<line x1="436.50" y1="131.10" x2="436.50" y2="242.20" stroke="#e6e6e6" stroke-width="0.8" />
<line x1="486.85" y1="131.10" x2="486.85" y2="242.20" stroke="#e6e6e6" stroke-width="0.8" />
<line x1="537.20" y1="131.10" x2="537.20" y2="242.20" stroke="#e6e6e6" stroke-width="0.8" />
<line x1="33.70" y1="137.53" x2="537.20" y2="137.53" stroke="#e6e6e6" stroke-width="0.8" />
<line x1="33.70" y1="162.09" x2="537.20" y2="162.09" stroke="#e6e6e6" stroke-width="0.8" />
<line x1="33.70" y1="186.65" x2="537.20" y2="186.65" stroke="#e6e6e6" stroke-width="0.8" />
<line x1="33.70" y1="211.21" x2="537.20" y2="211.21" stroke="#e6e6e6" stroke-width="0.8" />
<line x1="33.70" y1="235.77" x2="537.20" y2="235.77" stroke="#e6e6e6" stroke-width="0.8" />
<path d="M33.70,131.10 V242.20 H537.20" fill="none" stroke="#868686" stroke-width="1"/>
<line x1="84.05" y1="242.20" x2="84.05" y2="239.70" stroke="#868686" stroke-width="1" />
<line x1="134.40" y1="242.20" x2="134.40" y2="239.70" stroke="#868686" stroke-width="1" />
<line x1="184.75" y1="242.20" x2="184.75" y2="239.70" stroke="#868686" stroke-width="1" />
<line x1="235.10" y1="242.20" x2="235.10" y2="239.70" stroke="#868686" stroke-width="1" />
<line x1="285.45" y1="242.20" x2="285.45" y2="239.70" stroke="#868686" stroke-width="1" />
<line x1="335.80" y1="242.20" x2="335.80" y2="239.70" stroke="#868686" stroke-width="1" />
<line x1="386.15" y1="242.20" x2="386.15" y2="239.70" stroke="#868686" stroke-width="1" />
<line x1="436.50" y1="242.20" x2="436.50" y2="239.70" stroke="#868686" stroke-width="1" />
<line x1="486.85" y1="242.20" x2="486.85" y2="239.70" stroke="#868686" stroke-width="1" />
<line x1="537.20" y1="242.20" x2="537.20" y2="239.70" stroke="#868686" stroke-width="1" />
<line x1="33.70" y1="137.53" x2="38.70" y2="137.53" stroke="#868686" stroke-width="1" />
<line x1="33.70" y1="162.09" x2="38.70" y2="162.09" stroke="#868686" stroke-width="1" />
<line x1="33.70" y1="186.65" x2="38.70" y2="186.65" stroke="#868686" stroke-width="1" />
<line x1="33.70" y1="211.21" x2="38.70" y2="211.21" stroke="#868686" stroke-width="1" />
<line x1="33.70" y1="235.77" x2="38.70" y2="235.77" stroke="#868686" stroke-width="1" />
<clipPath id="cbl"><rect x="33.70" y="131.10" width="503.50" height="111.11"/></clipPath>
<polygon points="49.43,179.49 53.23,182.29 49.43,185.09 45.63,182.29" fill="#ff0000"/>
<polygon points="65.17,183.85 68.97,186.65 65.17,189.45 61.37,186.65" fill="#ff0000"/>
<polygon points="80.90,188.21 84.70,191.01 80.90,193.81 77.10,191.01" fill="#ff0000"/>
<polygon points="96.64,190.02 100.44,192.82 96.64,195.62 92.84,192.82" fill="#ff0000"/>
<polygon points="112.37,188.21 116.17,191.01 112.37,193.81 108.57,191.01" fill="#ff0000"/>
<polygon points="128.11,183.85 131.91,186.65 128.11,189.45 124.31,186.65" fill="#ff0000"/>
<polygon points="143.84,179.49 147.64,182.29 143.84,185.09 140.04,182.29" fill="#ff0000"/>
<polygon points="159.58,177.68 163.38,180.48 159.58,183.28 155.78,180.48" fill="#ff0000"/>
<polygon points="175.31,179.49 179.11,182.29 175.31,185.09 171.51,182.29" fill="#ff0000"/>
<polygon points="191.04,183.85 194.84,186.65 191.04,189.45 187.24,186.65" fill="#ff0000"/>
<polygon points="206.78,188.21 210.58,191.01 206.78,193.81 202.98,191.01" fill="#ff0000"/>
<polygon points="222.51,190.02 226.31,192.82 222.51,195.62 218.71,192.82" fill="#ff0000"/>
<polygon points="238.25,188.21 242.05,191.01 238.25,193.81 234.45,191.01" fill="#ff0000"/>
<polygon points="253.98,183.85 257.78,186.65 253.98,189.45 250.18,186.65" fill="#ff0000"/>
<polygon points="269.72,179.49 273.52,182.29 269.72,185.09 265.92,182.29" fill="#ff0000"/>
<polygon points="285.45,177.68 289.25,180.48 285.45,183.28 281.65,180.48" fill="#ff0000"/>
<polygon points="301.18,179.49 304.98,182.29 301.18,185.09 297.38,182.29" fill="#ff0000"/>
<polygon points="316.92,183.85 320.72,186.65 316.92,189.45 313.12,186.65" fill="#ff0000"/>
<polygon points="332.65,188.21 336.45,191.01 332.65,193.81 328.85,191.01" fill="#ff0000"/>
<polygon points="348.39,190.02 352.19,192.82 348.39,195.62 344.59,192.82" fill="#ff0000"/>
<polygon points="364.12,188.21 367.92,191.01 364.12,193.81 360.32,191.01" fill="#ff0000"/>
<polygon points="379.86,183.85 383.66,186.65 379.86,189.45 376.06,186.65" fill="#ff0000"/>
<polygon points="395.59,179.49 399.39,182.29 395.59,185.09 391.79,182.29" fill="#ff0000"/>
<polygon points="411.33,177.68 415.13,180.48 411.33,183.28 407.53,180.48" fill="#ff0000"/>
<polygon points="427.06,179.49 430.86,182.29 427.06,185.09 423.26,182.29" fill="#ff0000"/>
<polygon points="442.79,183.85 446.59,186.65 442.79,189.45 438.99,186.65" fill="#ff0000"/>
<polygon points="458.53,188.21 462.33,191.01 458.53,193.81 454.73,191.01" fill="#ff0000"/>
<polygon points="474.26,190.02 478.06,192.82 474.26,195.62 470.46,192.82" fill="#ff0000"/>
<polygon points="490.00,188.21 493.80,191.01 490.00,193.81 486.20,191.01" fill="#ff0000"/>
<polygon points="505.73,183.85 509.53,186.65 505.73,189.45 501.93,186.65" fill="#ff0000"/>
<polygon points="521.47,179.49 525.27,182.29 521.47,185.09 517.67,182.29" fill="#ff0000"/>
<polygon points="537.20,177.68 541.00,180.48 537.20,183.28 533.40,180.48" fill="#ff0000"/>
<polygon points="49.43,144.67 53.23,147.37 49.43,150.07 45.63,147.37" fill="#0000ea"/>
<polygon points="65.17,183.95 68.97,186.65 65.17,189.35 61.37,186.65" fill="#0000ea"/>
<polygon points="80.90,223.23 84.70,225.93 80.90,228.63 77.10,225.93" fill="#0000ea"/>
<polygon points="96.64,239.50 100.44,242.20 96.64,244.90 92.84,242.20" fill="#0000ea"/>
<polygon points="112.37,223.23 116.17,225.93 112.37,228.63 108.57,225.93" fill="#0000ea"/>
<polygon points="128.11,183.95 131.91,186.65 128.11,189.35 124.31,186.65" fill="#0000ea"/>
<polygon points="143.84,144.67 147.64,147.37 143.84,150.07 140.04,147.37" fill="#0000ea"/>
<polygon points="159.58,128.40 163.38,131.10 159.58,133.80 155.78,131.10" fill="#0000ea"/>
<polygon points="175.31,144.67 179.11,147.37 175.31,150.07 171.51,147.37" fill="#0000ea"/>
<polygon points="191.04,183.95 194.84,186.65 191.04,189.35 187.24,186.65" fill="#0000ea"/>
<polygon points="206.78,223.23 210.58,225.93 206.78,228.63 202.98,225.93" fill="#0000ea"/>
<polygon points="222.51,239.50 226.31,242.20 222.51,244.90 218.71,242.20" fill="#0000ea"/>
<polygon points="238.25,223.23 242.05,225.93 238.25,228.63 234.45,225.93" fill="#0000ea"/>
<polygon points="253.98,183.95 257.78,186.65 253.98,189.35 250.18,186.65" fill="#0000ea"/>
<polygon points="269.72,144.67 273.52,147.37 269.72,150.07 265.92,147.37" fill="#0000ea"/>
<polygon points="285.45,128.40 289.25,131.10 285.45,133.80 281.65,131.10" fill="#0000ea"/>
<polygon points="301.18,144.67 304.98,147.37 301.18,150.07 297.38,147.37" fill="#0000ea"/>
<polygon points="316.92,183.95 320.72,186.65 316.92,189.35 313.12,186.65" fill="#0000ea"/>
<polygon points="332.65,223.23 336.45,225.93 332.65,228.63 328.85,225.93" fill="#0000ea"/>
<polygon points="348.39,239.50 352.19,242.20 348.39,244.90 344.59,242.20" fill="#0000ea"/>
<polygon points="364.12,223.23 367.92,225.93 364.12,228.63 360.32,225.93" fill="#0000ea"/>
<polygon points="379.86,183.95 383.66,186.65 379.86,189.35 376.06,186.65" fill="#0000ea"/>
<polygon points="395.59,144.67 399.39,147.37 395.59,150.07 391.79,147.37" fill="#0000ea"/>
<polygon points="411.33,128.40 415.13,131.10 411.33,133.80 407.53,131.10" fill="#0000ea"/>
<polygon points="427.06,144.67 430.86,147.37 427.06,150.07 423.26,147.37" fill="#0000ea"/>
<polygon points="442.79,183.95 446.59,186.65 442.79,189.35 438.99,186.65" fill="#0000ea"/>
<polygon points="458.53,223.23 462.33,225.93 458.53,228.63 454.73,225.93" fill="#0000ea"/>
<polygon points="474.26,239.50 478.06,242.20 474.26,244.90 470.46,242.20" fill="#0000ea"/>
<polygon points="490.00,223.23 493.80,225.93 490.00,228.63 486.20,225.93" fill="#0000ea"/>
<polygon points="505.73,183.95 509.53,186.65 505.73,189.35 501.93,186.65" fill="#0000ea"/>
<polygon points="521.47,144.67 525.27,147.37 521.47,150.07 517.67,147.37" fill="#0000ea"/>
<polygon points="537.20,128.40 541.00,131.10 537.20,133.80 533.40,131.10" fill="#0000ea"/>
<polyline fill="none" stroke="#ff0000" stroke-width="1.0" clip-path="url(#cbl)" points="33.70,180.48 34.33,180.48 34.96,180.49 35.59,180.50 36.22,180.53 36.85,180.55 37.48,180.59 38.11,180.63 38.74,180.67 39.36,180.72 39.99,180.78 40.62,180.84 41.25,180.91 41.88,180.99 42.51,181.06 43.14,181.15 43.77,181.24 44.40,181.34 45.03,181.44 45.66,181.54 46.29,181.66 46.92,181.77 47.55,181.89 48.18,182.02 48.81,182.15 49.43,182.29 50.06,182.42 50.69,182.57 51.32,182.72 51.95,182.87 52.58,183.02 53.21,183.18 53.84,183.34 54.47,183.51 55.10,183.68 55.73,183.85 56.36,184.02 56.99,184.20 57.62,184.38 58.25,184.56 58.88,184.74 59.50,184.93 60.13,185.11 60.76,185.30 61.39,185.49 62.02,185.68 62.65,185.88 63.28,186.07 63.91,186.26 64.54,186.46 65.17,186.65 65.80,186.84 66.43,187.04 67.06,187.23 67.69,187.42 68.32,187.62 68.95,187.81 69.57,188.00 70.20,188.19 70.83,188.37 71.46,188.56 72.09,188.74 72.72,188.92 73.35,189.10 73.98,189.28 74.61,189.45 75.24,189.62 75.87,189.79 76.50,189.96 77.13,190.12 77.76,190.28 78.39,190.43 79.02,190.58 79.64,190.73 80.27,190.88 80.90,191.01 81.53,191.15 82.16,191.28 82.79,191.41 83.42,191.53 84.05,191.64 84.68,191.76 85.31,191.86 85.94,191.96 86.57,192.06 87.20,192.15 87.83,192.24 88.46,192.31 89.09,192.39 89.71,192.46 90.34,192.52 90.97,192.58 91.60,192.63 92.23,192.67 92.86,192.71 93.49,192.75 94.12,192.77 94.75,192.80 95.38,192.81 96.01,192.82 96.64,192.82 97.27,192.82 97.90,192.81 98.53,192.80 99.16,192.77 99.78,192.75 100.41,192.71 101.04,192.67 101.67,192.63 102.30,192.58 102.93,192.52 103.56,192.46 104.19,192.39 104.82,192.31 105.45,192.24 106.08,192.15 106.71,192.06 107.34,191.96 107.97,191.86 108.60,191.76 109.23,191.64 109.85,191.53 110.48,191.41 111.11,191.28 111.74,191.15 112.37,191.01 113.00,190.88 113.63,190.73 114.26,190.58 114.89,190.43 115.52,190.28 116.15,190.12 116.78,189.96 117.41,189.79 118.04,189.62 118.67,189.45 119.30,189.28 119.92,189.10 120.55,188.92 121.18,188.74 121.81,188.56 122.44,188.37 123.07,188.19 123.70,188.00 124.33,187.81 124.96,187.62 125.59,187.42 126.22,187.23 126.85,187.04 127.48,186.84 128.11,186.65 128.74,186.46 129.37,186.26 129.99,186.07 130.62,185.88 131.25,185.68 131.88,185.49 132.51,185.30 133.14,185.11 133.77,184.93 134.40,184.74 135.03,184.56 135.66,184.38 136.29,184.20 136.92,184.02 137.55,183.85 138.18,183.68 138.81,183.51 139.44,183.34 140.06,183.18 140.69,183.02 141.32,182.87 141.95,182.72 142.58,182.57 143.21,182.42 143.84,182.29 144.47,182.15 145.10,182.02 145.73,181.89 146.36,181.77 146.99,181.66 147.62,181.54 148.25,181.44 148.88,181.34 149.51,181.24 150.13,181.15 150.76,181.06 151.39,180.99 152.02,180.91 152.65,180.84 153.28,180.78 153.91,180.72 154.54,180.67 155.17,180.63 155.80,180.59 156.43,180.55 157.06,180.53 157.69,180.50 158.32,180.49 158.95,180.48 159.58,180.48 160.20,180.48 160.83,180.49 161.46,180.50 162.09,180.53 162.72,180.55 163.35,180.59 163.98,180.63 164.61,180.67 165.24,180.72 165.87,180.78 166.50,180.84 167.13,180.91 167.76,180.99 168.39,181.06 169.02,181.15 169.65,181.24 170.27,181.34 170.90,181.44 171.53,181.54 172.16,181.66 172.79,181.77 173.42,181.89 174.05,182.02 174.68,182.15 175.31,182.29 175.94,182.42 176.57,182.57 177.20,182.72 177.83,182.87 178.46,183.02 179.09,183.18 179.72,183.34 180.34,183.51 180.97,183.68 181.60,183.85 182.23,184.02 182.86,184.20 183.49,184.38 184.12,184.56 184.75,184.74 185.38,184.93 186.01,185.11 186.64,185.30 187.27,185.49 187.90,185.68 188.53,185.88 189.16,186.07 189.79,186.26 190.41,186.46 191.04,186.65 191.67,186.84 192.30,187.04 192.93,187.23 193.56,187.42 194.19,187.62 194.82,187.81 195.45,188.00 196.08,188.19 196.71,188.37 197.34,188.56 197.97,188.74 198.60,188.92 199.23,189.10 199.86,189.28 200.48,189.45 201.11,189.62 201.74,189.79 202.37,189.96 203.00,190.12 203.63,190.28 204.26,190.43 204.89,190.58 205.52,190.73 206.15,190.88 206.78,191.01 207.41,191.15 208.04,191.28 208.67,191.41 209.30,191.53 209.93,191.64 210.55,191.76 211.18,191.86 211.81,191.96 212.44,192.06 213.07,192.15 213.70,192.24 214.33,192.31 214.96,192.39 215.59,192.46 216.22,192.52 216.85,192.58 217.48,192.63 218.11,192.67 218.74,192.71 219.37,192.75 220.00,192.77 220.62,192.80 221.25,192.81 221.88,192.82 222.51,192.82 223.14,192.82 223.77,192.81 224.40,192.80 225.03,192.77 225.66,192.75 226.29,192.71 226.92,192.67 227.55,192.63 228.18,192.58 228.81,192.52 229.44,192.46 230.07,192.39 230.69,192.31 231.32,192.24 231.95,192.15 232.58,192.06 233.21,191.96 233.84,191.86 234.47,191.76 235.10,191.64 235.73,191.53 236.36,191.41 236.99,191.28 237.62,191.15 238.25,191.01 238.88,190.88 239.51,190.73 240.13,190.58 240.76,190.43 241.39,190.28 242.02,190.12 242.65,189.96 243.28,189.79 243.91,189.62 244.54,189.45 245.17,189.28 245.80,189.10 246.43,188.92 247.06,188.74 247.69,188.56 248.32,188.37 248.95,188.19 249.58,188.00 250.21,187.81 250.83,187.62 251.46,187.42 252.09,187.23 252.72,187.04 253.35,186.84 253.98,186.65 254.61,186.46 255.24,186.26 255.87,186.07 256.50,185.88 257.13,185.68 257.76,185.49 258.39,185.30 259.02,185.11 259.65,184.93 260.28,184.74 260.90,184.56 261.53,184.38 262.16,184.20 262.79,184.02 263.42,183.85 264.05,183.68 264.68,183.51 265.31,183.34 265.94,183.18 266.57,183.02 267.20,182.87 267.83,182.72 268.46,182.57 269.09,182.42 269.72,182.29 270.35,182.15 270.97,182.02 271.60,181.89 272.23,181.77 272.86,181.66 273.49,181.54 274.12,181.44 274.75,181.34 275.38,181.24 276.01,181.15 276.64,181.06 277.27,180.99 277.90,180.91 278.53,180.84 279.16,180.78 279.79,180.72 280.42,180.67 281.04,180.63 281.67,180.59 282.30,180.55 282.93,180.53 283.56,180.50 284.19,180.49 284.82,180.48 285.45,180.48 286.08,180.48 286.71,180.49 287.34,180.50 287.97,180.53 288.60,180.55 289.23,180.59 289.86,180.63 290.49,180.67 291.11,180.72 291.74,180.78 292.37,180.84 293.00,180.91 293.63,180.99 294.26,181.06 294.89,181.15 295.52,181.24 296.15,181.34 296.78,181.44 297.41,181.54 298.04,181.66 298.67,181.77 299.30,181.89 299.93,182.02 300.56,182.15 301.18,182.29 301.81,182.42 302.44,182.57 303.07,182.72 303.70,182.87 304.33,183.02 304.96,183.18 305.59,183.34 306.22,183.51 306.85,183.68 307.48,183.85 308.11,184.02 308.74,184.20 309.37,184.38 310.00,184.56 310.63,184.74 311.25,184.93 311.88,185.11 312.51,185.30 313.14,185.49 313.77,185.68 314.40,185.88 315.03,186.07 315.66,186.26 316.29,186.46 316.92,186.65 317.55,186.84 318.18,187.04 318.81,187.23 319.44,187.42 320.07,187.62 320.69,187.81 321.32,188.00 321.95,188.19 322.58,188.37 323.21,188.56 323.84,188.74 324.47,188.92 325.10,189.10 325.73,189.28 326.36,189.45 326.99,189.62 327.62,189.79 328.25,189.96 328.88,190.12 329.51,190.28 330.14,190.43 330.76,190.58 331.39,190.73 332.02,190.88 332.65,191.01 333.28,191.15 333.91,191.28 334.54,191.41 335.17,191.53 335.80,191.64 336.43,191.76 337.06,191.86 337.69,191.96 338.32,192.06 338.95,192.15 339.58,192.24 340.21,192.31 340.84,192.39 341.46,192.46 342.09,192.52 342.72,192.58 343.35,192.63 343.98,192.67 344.61,192.71 345.24,192.75 345.87,192.77 346.50,192.80 347.13,192.81 347.76,192.82 348.39,192.82 349.02,192.82 349.65,192.81 350.28,192.80 350.91,192.77 351.53,192.75 352.16,192.71 352.79,192.67 353.42,192.63 354.05,192.58 354.68,192.52 355.31,192.46 355.94,192.39 356.57,192.31 357.20,192.24 357.83,192.15 358.46,192.06 359.09,191.96 359.72,191.86 360.35,191.76 360.98,191.64 361.60,191.53 362.23,191.41 362.86,191.28 363.49,191.15 364.12,191.01 364.75,190.88 365.38,190.73 366.01,190.58 366.64,190.43 367.27,190.28 367.90,190.12 368.53,189.96 369.16,189.79 369.79,189.62 370.42,189.45 371.05,189.28 371.67,189.10 372.30,188.92 372.93,188.74 373.56,188.56 374.19,188.37 374.82,188.19 375.45,188.00 376.08,187.81 376.71,187.62 377.34,187.42 377.97,187.23 378.60,187.04 379.23,186.84 379.86,186.65 380.49,186.46 381.12,186.26 381.74,186.07 382.37,185.88 383.00,185.68 383.63,185.49 384.26,185.30 384.89,185.11 385.52,184.93 386.15,184.74 386.78,184.56 387.41,184.38 388.04,184.20 388.67,184.02 389.30,183.85 389.93,183.68 390.56,183.51 391.19,183.34 391.81,183.18 392.44,183.02 393.07,182.87 393.70,182.72 394.33,182.57 394.96,182.42 395.59,182.29 396.22,182.15 396.85,182.02 397.48,181.89 398.11,181.77 398.74,181.66 399.37,181.54 400.00,181.44 400.63,181.34 401.25,181.24 401.88,181.15 402.51,181.06 403.14,180.99 403.77,180.91 404.40,180.84 405.03,180.78 405.66,180.72 406.29,180.67 406.92,180.63 407.55,180.59 408.18,180.55 408.81,180.53 409.44,180.50 410.07,180.49 410.70,180.48 411.33,180.48 411.95,180.48 412.58,180.49 413.21,180.50 413.84,180.53 414.47,180.55 415.10,180.59 415.73,180.63 416.36,180.67 416.99,180.72 417.62,180.78 418.25,180.84 418.88,180.91 419.51,180.99 420.14,181.06 420.77,181.15 421.40,181.24 422.02,181.34 422.65,181.44 423.28,181.54 423.91,181.66 424.54,181.77 425.17,181.89 425.80,182.02 426.43,182.15 427.06,182.29 427.69,182.42 428.32,182.57 428.95,182.72 429.58,182.87 430.21,183.02 430.84,183.18 431.47,183.34 432.09,183.51 432.72,183.68 433.35,183.85 433.98,184.02 434.61,184.20 435.24,184.38 435.87,184.56 436.50,184.74 437.13,184.93 437.76,185.11 438.39,185.30 439.02,185.49 439.65,185.68 440.28,185.88 440.91,186.07 441.54,186.26 442.16,186.46 442.79,186.65 443.42,186.84 444.05,187.04 444.68,187.23 445.31,187.42 445.94,187.62 446.57,187.81 447.20,188.00 447.83,188.19 448.46,188.37 449.09,188.56 449.72,188.74 450.35,188.92 450.98,189.10 451.61,189.28 452.23,189.45 452.86,189.62 453.49,189.79 454.12,189.96 454.75,190.12 455.38,190.28 456.01,190.43 456.64,190.58 457.27,190.73 457.90,190.88 458.53,191.01 459.16,191.15 459.79,191.28 460.42,191.41 461.05,191.53 461.68,191.64 462.30,191.76 462.93,191.86 463.56,191.96 464.19,192.06 464.82,192.15 465.45,192.24 466.08,192.31 466.71,192.39 467.34,192.46 467.97,192.52 468.60,192.58 469.23,192.63 469.86,192.67 470.49,192.71 471.12,192.75 471.75,192.77 472.37,192.80 473.00,192.81 473.63,192.82 474.26,192.82 474.89,192.82 475.52,192.81 476.15,192.80 476.78,192.77 477.41,192.75 478.04,192.71 478.67,192.67 479.30,192.63 479.93,192.58 480.56,192.52 481.19,192.46 481.82,192.39 482.44,192.31 483.07,192.24 483.70,192.15 484.33,192.06 484.96,191.96 485.59,191.86 486.22,191.76 486.85,191.64 487.48,191.53 488.11,191.41 488.74,191.28 489.37,191.15 490.00,191.01 490.63,190.88 491.26,190.73 491.89,190.58 492.51,190.43 493.14,190.28 493.77,190.12 494.40,189.96 495.03,189.79 495.66,189.62 496.29,189.45 496.92,189.28 497.55,189.10 498.18,188.92 498.81,188.74 499.44,188.56 500.07,188.37 500.70,188.19 501.33,188.00 501.96,187.81 502.58,187.62 503.21,187.42 503.84,187.23 504.47,187.04 505.10,186.84 505.73,186.65 506.36,186.46 506.99,186.26 507.62,186.07 508.25,185.88 508.88,185.68 509.51,185.49 510.14,185.30 510.77,185.11 511.40,184.93 512.03,184.74 512.65,184.56 513.28,184.38 513.91,184.20 514.54,184.02 515.17,183.85 515.80,183.68 516.43,183.51 517.06,183.34 517.69,183.18 518.32,183.02 518.95,182.87 519.58,182.72 520.21,182.57 520.84,182.42 521.47,182.29 522.10,182.15 522.72,182.02 523.35,181.89 523.98,181.77 524.61,181.66 525.24,181.54 525.87,181.44 526.50,181.34 527.13,181.24 527.76,181.15 528.39,181.06 529.02,180.99 529.65,180.91 530.28,180.84 530.91,180.78 531.54,180.72 532.17,180.67 532.79,180.63 533.42,180.59 534.05,180.55 534.68,180.53 535.31,180.50 535.94,180.49 536.57,180.48 537.20,180.48"/>
<polyline fill="none" stroke="#0000ea" stroke-width="1.5" stroke-linejoin="round" clip-path="url(#cbl)" points="33.70,131.10 33.87,131.25 34.04,131.73 34.20,132.51 34.37,133.60 34.54,135.00 34.71,136.68 34.87,138.66 35.04,140.90 35.21,143.40 35.38,146.15 35.55,149.13 35.71,152.33 35.88,155.71 36.05,159.28 36.22,163.00 36.39,166.85 36.55,170.82 36.72,174.87 36.89,179.00 37.06,183.16 37.22,187.35 37.39,191.53 37.56,195.69 37.73,199.79 37.90,203.82 38.06,207.75 38.23,211.56 38.40,215.23 38.57,218.74 38.74,222.06 38.90,225.18 39.07,228.09 39.24,230.76 39.41,233.18 39.57,235.33 39.74,237.21 39.91,238.80 40.08,240.09 40.25,241.08 40.41,241.77 40.58,242.13 40.75,242.19 40.92,241.92 41.08,241.35 41.25,240.46 41.42,239.26 41.59,237.77 41.76,235.99 41.92,233.93 42.09,231.59 42.26,229.01 42.43,226.18 42.60,223.13 42.76,219.87 42.93,216.42 43.10,212.80 43.27,209.03 43.43,205.14 43.60,201.14 43.77,197.06 43.94,192.92 44.11,188.74 44.27,184.56 44.44,180.38 44.61,176.24 44.78,172.16 44.94,168.16 45.11,164.27 45.28,160.50 45.45,156.88 45.62,153.43 45.78,150.17 45.95,147.12 46.12,144.29 46.29,141.71 46.46,139.37 46.62,137.31 46.79,135.53 46.96,134.04 47.13,132.84 47.29,131.95 47.46,131.38 47.63,131.11 47.80,131.17 47.97,131.53 48.13,132.22 48.30,133.21 48.47,134.50 48.64,136.09 48.81,137.97 48.97,140.12 49.14,142.54 49.31,145.21 49.48,148.12 49.64,151.24 49.81,154.56 49.98,158.07 50.15,161.74 50.32,165.55 50.48,169.48 50.65,173.51 50.82,177.61 50.99,181.77 51.15,185.95 51.32,190.14 51.49,194.30 51.66,198.43 51.83,202.48 51.99,206.45 52.16,210.30 52.33,214.02 52.50,217.59 52.67,220.97 52.83,224.17 53.00,227.15 53.17,229.90 53.34,232.40 53.50,234.64 53.67,236.62 53.84,238.30 54.01,239.70 54.18,240.79 54.34,241.57 54.51,242.05 54.68,242.20 54.85,242.05 55.01,241.57 55.18,240.79 55.35,239.70 55.52,238.30 55.69,236.62 55.85,234.64 56.02,232.40 56.19,229.90 56.36,227.15 56.53,224.17 56.69,220.97 56.86,217.59 57.03,214.02 57.20,210.30 57.36,206.45 57.53,202.48 57.70,198.43 57.87,194.30 58.04,190.14 58.20,185.95 58.37,181.77 58.54,177.61 58.71,173.51 58.88,169.48 59.04,165.55 59.21,161.74 59.38,158.07 59.55,154.56 59.71,151.24 59.88,148.12 60.05,145.21 60.22,142.54 60.39,140.12 60.55,137.97 60.72,136.09 60.89,134.50 61.06,133.21 61.22,132.22 61.39,131.53 61.56,131.17 61.73,131.11 61.90,131.38 62.06,131.95 62.23,132.84 62.40,134.04 62.57,135.53 62.74,137.31 62.90,139.37 63.07,141.71 63.24,144.29 63.41,147.12 63.57,150.17 63.74,153.43 63.91,156.88 64.08,160.50 64.25,164.27 64.41,168.16 64.58,172.16 64.75,176.24 64.92,180.38 65.08,184.56 65.25,188.74 65.42,192.92 65.59,197.06 65.76,201.14 65.92,205.14 66.09,209.03 66.26,212.80 66.43,216.42 66.60,219.87 66.76,223.13 66.93,226.18 67.10,229.01 67.27,231.59 67.43,233.93 67.60,235.99 67.77,237.77 67.94,239.26 68.11,240.46 68.27,241.35 68.44,241.92 68.61,242.19 68.78,242.13 68.95,241.77 69.11,241.08 69.28,240.09 69.45,238.80 69.62,237.21 69.78,235.33 69.95,233.18 70.12,230.76 70.29,228.09 70.46,225.18 70.62,222.06 70.79,218.74 70.96,215.23 71.13,211.56 71.29,207.75 71.46,203.82 71.63,199.79 71.80,195.69 71.97,191.53 72.13,187.35 72.30,183.16 72.47,179.00 72.64,174.87 72.81,170.82 72.97,166.85 73.14,163.00 73.31,159.28 73.48,155.71 73.64,152.33 73.81,149.13 73.98,146.15 74.15,143.40 74.32,140.90 74.48,138.66 74.65,136.68 74.82,135.00 74.99,133.60 75.15,132.51 75.32,131.73 75.49,131.25 75.66,131.10 75.83,131.25 75.99,131.73 76.16,132.51 76.33,133.60 76.50,135.00 76.67,136.68 76.83,138.66 77.00,140.90 77.17,143.40 77.34,146.15 77.50,149.13 77.67,152.33 77.84,155.71 78.01,159.28 78.18,163.00 78.34,166.85 78.51,170.82 78.68,174.87 78.85,179.00 79.02,183.16 79.18,187.35 79.35,191.53 79.52,195.69 79.69,199.79 79.85,203.82 80.02,207.75 80.19,211.56 80.36,215.23 80.53,218.74 80.69,222.06 80.86,225.18 81.03,228.09 81.20,230.76 81.36,233.18 81.53,235.33 81.70,237.21 81.87,238.80 82.04,240.09 82.20,241.08 82.37,241.77 82.54,242.13 82.71,242.19 82.88,241.92 83.04,241.35 83.21,240.46 83.38,239.26 83.55,237.77 83.71,235.99 83.88,233.93 84.05,231.59 84.22,229.01 84.39,226.18 84.55,223.13 84.72,219.87 84.89,216.42 85.06,212.80 85.22,209.03 85.39,205.14 85.56,201.14 85.73,197.06 85.90,192.92 86.06,188.74 86.23,184.56 86.40,180.38 86.57,176.24 86.74,172.16 86.90,168.16 87.07,164.27 87.24,160.50 87.41,156.88 87.57,153.43 87.74,150.17 87.91,147.12 88.08,144.29 88.25,141.71 88.41,139.37 88.58,137.31 88.75,135.53 88.92,134.04 89.09,132.84 89.25,131.95 89.42,131.38 89.59,131.11 89.76,131.17 89.92,131.53 90.09,132.22 90.26,133.21 90.43,134.50 90.60,136.09 90.76,137.97 90.93,140.12 91.10,142.54 91.27,145.21 91.43,148.12 91.60,151.24 91.77,154.56 91.94,158.07 92.11,161.74 92.27,165.55 92.44,169.48 92.61,173.51 92.78,177.61 92.95,181.77 93.11,185.95 93.28,190.14 93.45,194.30 93.62,198.43 93.78,202.48 93.95,206.45 94.12,210.30 94.29,214.02 94.46,217.59 94.62,220.97 94.79,224.17 94.96,227.15 95.13,229.90 95.29,232.40 95.46,234.64 95.63,236.62 95.80,238.30 95.97,239.70 96.13,240.79 96.30,241.57 96.47,242.05 96.64,242.20 96.81,242.05 96.97,241.57 97.14,240.79 97.31,239.70 97.48,238.30 97.64,236.62 97.81,234.64 97.98,232.40 98.15,229.90 98.32,227.15 98.48,224.17 98.65,220.97 98.82,217.59 98.99,214.02 99.16,210.30 99.32,206.45 99.49,202.48 99.66,198.43 99.83,194.30 99.99,190.14 100.16,185.95 100.33,181.77 100.50,177.61 100.67,173.51 100.83,169.48 101.00,165.55 101.17,161.74 101.34,158.07 101.50,154.56 101.67,151.24 101.84,148.12 102.01,145.21 102.18,142.54 102.34,140.12 102.51,137.97 102.68,136.09 102.85,134.50 103.02,133.21 103.18,132.22 103.35,131.53 103.52,131.17 103.69,131.11 103.85,131.38 104.02,131.95 104.19,132.84 104.36,134.04 104.53,135.53 104.69,137.31 104.86,139.37 105.03,141.71 105.20,144.29 105.36,147.12 105.53,150.17 105.70,153.43 105.87,156.88 106.04,160.50 106.20,164.27 106.37,168.16 106.54,172.16 106.71,176.24 106.88,180.38 107.04,184.56 107.21,188.74 107.38,192.92 107.55,197.06 107.71,201.14 107.88,205.14 108.05,209.03 108.22,212.80 108.39,216.42 108.55,219.87 108.72,223.13 108.89,226.18 109.06,229.01 109.23,231.59 109.39,233.93 109.56,235.99 109.73,237.77 109.90,239.26 110.06,240.46 110.23,241.35 110.40,241.92 110.57,242.19 110.74,242.13 110.90,241.77 111.07,241.08 111.24,240.09 111.41,238.80 111.57,237.21 111.74,235.33 111.91,233.18 112.08,230.76 112.25,228.09 112.41,225.18 112.58,222.06 112.75,218.74 112.92,215.23 113.09,211.56 113.25,207.75 113.42,203.82 113.59,199.79 113.76,195.69 113.92,191.53 114.09,187.35 114.26,183.16 114.43,179.00 114.60,174.87 114.76,170.82 114.93,166.85 115.10,163.00 115.27,159.28 115.43,155.71 115.60,152.33 115.77,149.13 115.94,146.15 116.11,143.40 116.27,140.90 116.44,138.66 116.61,136.68 116.78,135.00 116.95,133.60 117.11,132.51 117.28,131.73 117.45,131.25 117.62,131.10 117.78,131.25 117.95,131.73 118.12,132.51 118.29,133.60 118.46,135.00 118.62,136.68 118.79,138.66 118.96,140.90 119.13,143.40 119.30,146.15 119.46,149.13 119.63,152.33 119.80,155.71 119.97,159.28 120.13,163.00 120.30,166.85 120.47,170.82 120.64,174.87 120.81,179.00 120.97,183.16 121.14,187.35 121.31,191.53 121.48,195.69 121.64,199.79 121.81,203.82 121.98,207.75 122.15,211.56 122.32,215.23 122.48,218.74 122.65,222.06 122.82,225.18 122.99,228.09 123.16,230.76 123.32,233.18 123.49,235.33 123.66,237.21 123.83,238.80 123.99,240.09 124.16,241.08 124.33,241.77 124.50,242.13 124.67,242.19 124.83,241.92 125.00,241.35 125.17,240.46 125.34,239.26 125.50,237.77 125.67,235.99 125.84,233.93 126.01,231.59 126.18,229.01 126.34,226.18 126.51,223.13 126.68,219.87 126.85,216.42 127.02,212.80 127.18,209.03 127.35,205.14 127.52,201.14 127.69,197.06 127.85,192.92 128.02,188.74 128.19,184.56 128.36,180.38 128.53,176.24 128.69,172.16 128.86,168.16 129.03,164.27 129.20,160.50 129.37,156.88 129.53,153.43 129.70,150.17 129.87,147.12 130.04,144.29 130.20,141.71 130.37,139.37 130.54,137.31 130.71,135.53 130.88,134.04 131.04,132.84 131.21,131.95 131.38,131.38 131.55,131.11 131.71,131.17 131.88,131.53 132.05,132.22 132.22,133.21 132.39,134.50 132.55,136.09 132.72,137.97 132.89,140.12 133.06,142.54 133.23,145.21 133.39,148.12 133.56,151.24 133.73,154.56 133.90,158.07 134.06,161.74 134.23,165.55 134.40,169.48 134.57,173.51 134.74,177.61 134.90,181.77 135.07,185.95 135.24,190.14 135.41,194.30 135.57,198.43 135.74,202.48 135.91,206.45 136.08,210.30 136.25,214.02 136.41,217.59 136.58,220.97 136.75,224.17 136.92,227.15 137.09,229.90 137.25,232.40 137.42,234.64 137.59,236.62 137.76,238.30 137.92,239.70 138.09,240.79 138.26,241.57 138.43,242.05 138.60,242.20 138.76,242.05 138.93,241.57 139.10,240.79 139.27,239.70 139.44,238.30 139.60,236.62 139.77,234.64 139.94,232.40 140.11,229.90 140.27,227.15 140.44,224.17 140.61,220.97 140.78,217.59 140.95,214.02 141.11,210.30 141.28,206.45 141.45,202.48 141.62,198.43 141.78,194.30 141.95,190.14 142.12,185.95 142.29,181.77 142.46,177.61 142.62,173.51 142.79,169.48 142.96,165.55 143.13,161.74 143.30,158.07 143.46,154.56 143.63,151.24 143.80,148.12 143.97,145.21 144.13,142.54 144.30,140.12 144.47,137.97 144.64,136.09 144.81,134.50 144.97,133.21 145.14,132.22 145.31,131.53 145.48,131.17 145.64,131.11 145.81,131.38 145.98,131.95 146.15,132.84 146.32,134.04 146.48,135.53 146.65,137.31 146.82,139.37 146.99,141.71 147.16,144.29 147.32,147.12 147.49,150.17 147.66,153.43 147.83,156.88 147.99,160.50 148.16,164.27 148.33,168.16 148.50,172.16 148.67,176.24 148.83,180.38 149.00,184.56 149.17,188.74 149.34,192.92 149.51,197.06 149.67,201.14 149.84,205.14 150.01,209.03 150.18,212.80 150.34,216.42 150.51,219.87 150.68,223.13 150.85,226.18 151.02,229.01 151.18,231.59 151.35,233.93 151.52,235.99 151.69,237.77 151.85,239.26 152.02,240.46 152.19,241.35 152.36,241.92 152.53,242.19 152.69,242.13 152.86,241.77 153.03,241.08 153.20,240.09 153.37,238.80 153.53,237.21 153.70,235.33 153.87,233.18 154.04,230.76 154.20,228.09 154.37,225.18 154.54,222.06 154.71,218.74 154.88,215.23 155.04,211.56 155.21,207.75 155.38,203.82 155.55,199.79 155.71,195.69 155.88,191.53 156.05,187.35 156.22,183.16 156.39,179.00 156.55,174.87 156.72,170.82 156.89,166.85 157.06,163.00 157.23,159.28 157.39,155.71 157.56,152.33 157.73,149.13 157.90,146.15 158.06,143.40 158.23,140.90 158.40,138.66 158.57,136.68 158.74,135.00 158.90,133.60 159.07,132.51 159.24,131.73 159.41,131.25 159.58,131.10 159.74,131.25 159.91,131.73 160.08,132.51 160.25,133.60 160.41,135.00 160.58,136.68 160.75,138.66 160.92,140.90 161.09,143.40 161.25,146.15 161.42,149.13 161.59,152.33 161.76,155.71 161.92,159.28 162.09,163.00 162.26,166.85 162.43,170.82 162.60,174.87 162.76,179.00 162.93,183.16 163.10,187.35 163.27,191.53 163.44,195.69 163.60,199.79 163.77,203.82 163.94,207.75 164.11,211.56 164.27,215.23 164.44,218.74 164.61,222.06 164.78,225.18 164.95,228.09 165.11,230.76 165.28,233.18 165.45,235.33 165.62,237.21 165.78,238.80 165.95,240.09 166.12,241.08 166.29,241.77 166.46,242.13 166.62,242.19 166.79,241.92 166.96,241.35 167.13,240.46 167.30,239.26 167.46,237.77 167.63,235.99 167.80,233.93 167.97,231.59 168.13,229.01 168.30,226.18 168.47,223.13 168.64,219.87 168.81,216.42 168.97,212.80 169.14,209.03 169.31,205.14 169.48,201.14 169.65,197.06 169.81,192.92 169.98,188.74 170.15,184.56 170.32,180.38 170.48,176.24 170.65,172.16 170.82,168.16 170.99,164.27 171.16,160.50 171.32,156.88 171.49,153.43 171.66,150.17 171.83,147.12 171.99,144.29 172.16,141.71 172.33,139.37 172.50,137.31 172.67,135.53 172.83,134.04 173.00,132.84 173.17,131.95 173.34,131.38 173.51,131.11 173.67,131.17 173.84,131.53 174.01,132.22 174.18,133.21 174.34,134.50 174.51,136.09 174.68,137.97 174.85,140.12 175.02,142.54 175.18,145.21 175.35,148.12 175.52,151.24 175.69,154.56 175.85,158.07 176.02,161.74 176.19,165.55 176.36,169.48 176.53,173.51 176.69,177.61 176.86,181.77 177.03,185.95 177.20,190.14 177.37,194.30 177.53,198.43 177.70,202.48 177.87,206.45 178.04,210.30 178.20,214.02 178.37,217.59 178.54,220.97 178.71,224.17 178.88,227.15 179.04,229.90 179.21,232.40 179.38,234.64 179.55,236.62 179.72,238.30 179.88,239.70 180.05,240.79 180.22,241.57 180.39,242.05 180.55,242.20 180.72,242.05 180.89,241.57 181.06,240.79 181.23,239.70 181.39,238.30 181.56,236.62 181.73,234.64 181.90,232.40 182.06,229.90 182.23,227.15 182.40,224.17 182.57,220.97 182.74,217.59 182.90,214.02 183.07,210.30 183.24,206.45 183.41,202.48 183.58,198.43 183.74,194.30 183.91,190.14 184.08,185.95 184.25,181.77 184.41,177.61 184.58,173.51 184.75,169.48 184.92,165.55 185.09,161.74 185.25,158.07 185.42,154.56 185.59,151.24 185.76,148.12 185.92,145.21 186.09,142.54 186.26,140.12 186.43,137.97 186.60,136.09 186.76,134.50 186.93,133.21 187.10,132.22 187.27,131.53 187.44,131.17 187.60,131.11 187.77,131.38 187.94,131.95 188.11,132.84 188.27,134.04 188.44,135.53 188.61,137.31 188.78,139.37 188.95,141.71 189.11,144.29 189.28,147.12 189.45,150.17 189.62,153.43 189.79,156.88 189.95,160.50 190.12,164.27 190.29,168.16 190.46,172.16 190.62,176.24 190.79,180.38 190.96,184.56 191.13,188.74 191.30,192.92 191.46,197.06 191.63,201.14 191.80,205.14 191.97,209.03 192.13,212.80 192.30,216.42 192.47,219.87 192.64,223.13 192.81,226.18 192.97,229.01 193.14,231.59 193.31,233.93 193.48,235.99 193.65,237.77 193.81,239.26 193.98,240.46 194.15,241.35 194.32,241.92 194.48,242.19 194.65,242.13 194.82,241.77 194.99,241.08 195.16,240.09 195.32,238.80 195.49,237.21 195.66,235.33 195.83,233.18 195.99,230.76 196.16,228.09 196.33,225.18 196.50,222.06 196.67,218.74 196.83,215.23 197.00,211.56 197.17,207.75 197.34,203.82 197.51,199.79 197.67,195.69 197.84,191.53 198.01,187.35 198.18,183.16 198.34,179.00 198.51,174.87 198.68,170.82 198.85,166.85 199.02,163.00 199.18,159.28 199.35,155.71 199.52,152.33 199.69,149.13 199.86,146.15 200.02,143.40 200.19,140.90 200.36,138.66 200.53,136.68 200.69,135.00 200.86,133.60 201.03,132.51 201.20,131.73 201.37,131.25 201.53,131.10 201.70,131.25 201.87,131.73 202.04,132.51 202.20,133.60 202.37,135.00 202.54,136.68 202.71,138.66 202.88,140.90 203.04,143.40 203.21,146.15 203.38,149.13 203.55,152.33 203.72,155.71 203.88,159.28 204.05,163.00 204.22,166.85 204.39,170.82 204.55,174.87 204.72,179.00 204.89,183.16 205.06,187.35 205.23,191.53 205.39,195.69 205.56,199.79 205.73,203.82 205.90,207.75 206.06,211.56 206.23,215.23 206.40,218.74 206.57,222.06 206.74,225.18 206.90,228.09 207.07,230.76 207.24,233.18 207.41,235.33 207.58,237.21 207.74,238.80 207.91,240.09 208.08,241.08 208.25,241.77 208.41,242.13 208.58,242.19 208.75,241.92 208.92,241.35 209.09,240.46 209.25,239.26 209.42,237.77 209.59,235.99 209.76,233.93 209.93,231.59 210.09,229.01 210.26,226.18 210.43,223.13 210.60,219.87 210.76,216.42 210.93,212.80 211.10,209.03 211.27,205.14 211.44,201.14 211.60,197.06 211.77,192.92 211.94,188.74 212.11,184.56 212.27,180.38 212.44,176.24 212.61,172.16 212.78,168.16 212.95,164.27 213.11,160.50 213.28,156.88 213.45,153.43 213.62,150.17 213.79,147.12 213.95,144.29 214.12,141.71 214.29,139.37 214.46,137.31 214.62,135.53 214.79,134.04 214.96,132.84 215.13,131.95 215.30,131.38 215.46,131.11 215.63,131.17 215.80,131.53 215.97,132.22 216.13,133.21 216.30,134.50 216.47,136.09 216.64,137.97 216.81,140.12 216.97,142.54 217.14,145.21 217.31,148.12 217.48,151.24 217.65,154.56 217.81,158.07 217.98,161.74 218.15,165.55 218.32,169.48 218.48,173.51 218.65,177.61 218.82,181.77 218.99,185.95 219.16,190.14 219.32,194.30 219.49,198.43 219.66,202.48 219.83,206.45 220.00,210.30 220.16,214.02 220.33,217.59 220.50,220.97 220.67,224.17 220.83,227.15 221.00,229.90 221.17,232.40 221.34,234.64 221.51,236.62 221.67,238.30 221.84,239.70 222.01,240.79 222.18,241.57 222.34,242.05 222.51,242.20 222.68,242.05 222.85,241.57 223.02,240.79 223.18,239.70 223.35,238.30 223.52,236.62 223.69,234.64 223.86,232.40 224.02,229.90 224.19,227.15 224.36,224.17 224.53,220.97 224.69,217.59 224.86,214.02 225.03,210.30 225.20,206.45 225.37,202.48 225.53,198.43 225.70,194.30 225.87,190.14 226.04,185.95 226.20,181.77 226.37,177.61 226.54,173.51 226.71,169.48 226.88,165.55 227.04,161.74 227.21,158.07 227.38,154.56 227.55,151.24 227.72,148.12 227.88,145.21 228.05,142.54 228.22,140.12 228.39,137.97 228.55,136.09 228.72,134.50 228.89,133.21 229.06,132.22 229.23,131.53 229.39,131.17 229.56,131.11 229.73,131.38 229.90,131.95 230.07,132.84 230.23,134.04 230.40,135.53 230.57,137.31 230.74,139.37 230.90,141.71 231.07,144.29 231.24,147.12 231.41,150.17 231.58,153.43 231.74,156.88 231.91,160.50 232.08,164.27 232.25,168.16 232.41,172.16 232.58,176.24 232.75,180.38 232.92,184.56 233.09,188.74 233.25,192.92 233.42,197.06 233.59,201.14 233.76,205.14 233.93,209.03 234.09,212.80 234.26,216.42 234.43,219.87 234.60,223.13 234.76,226.18 234.93,229.01 235.10,231.59 235.27,233.93 235.44,235.99 235.60,237.77 235.77,239.26 235.94,240.46 236.11,241.35 236.27,241.92 236.44,242.19 236.61,242.13 236.78,241.77 236.95,241.08 237.11,240.09 237.28,238.80 237.45,237.21 237.62,235.33 237.79,233.18 237.95,230.76 238.12,228.09 238.29,225.18 238.46,222.06 238.62,218.74 238.79,215.23 238.96,211.56 239.13,207.75 239.30,203.82 239.46,199.79 239.63,195.69 239.80,191.53 239.97,187.35 240.13,183.16 240.30,179.00 240.47,174.87 240.64,170.82 240.81,166.85 240.97,163.00 241.14,159.28 241.31,155.71 241.48,152.33 241.65,149.13 241.81,146.15 241.98,143.40 242.15,140.90 242.32,138.66 242.48,136.68 242.65,135.00 242.82,133.60 242.99,132.51 243.16,131.73 243.32,131.25 243.49,131.10 243.66,131.25 243.83,131.73 244.00,132.51 244.16,133.60 244.33,135.00 244.50,136.68 244.67,138.66 244.83,140.90 245.00,143.40 245.17,146.15 245.34,149.13 245.51,152.33 245.67,155.71 245.84,159.28 246.01,163.00 246.18,166.85 246.34,170.82 246.51,174.87 246.68,179.00 246.85,183.16 247.02,187.35 247.18,191.53 247.35,195.69 247.52,199.79 247.69,203.82 247.86,207.75 248.02,211.56 248.19,215.23 248.36,218.74 248.53,222.06 248.69,225.18 248.86,228.09 249.03,230.76 249.20,233.18 249.37,235.33 249.53,237.21 249.70,238.80 249.87,240.09 250.04,241.08 250.21,241.77 250.37,242.13 250.54,242.19 250.71,241.92 250.88,241.35 251.04,240.46 251.21,239.26 251.38,237.77 251.55,235.99 251.72,233.93 251.88,231.59 252.05,229.01 252.22,226.18 252.39,223.13 252.55,219.87 252.72,216.42 252.89,212.80 253.06,209.03 253.23,205.14 253.39,201.14 253.56,197.06 253.73,192.92 253.90,188.74 254.07,184.56 254.23,180.38 254.40,176.24 254.57,172.16 254.74,168.16 254.90,164.27 255.07,160.50 255.24,156.88 255.41,153.43 255.58,150.17 255.74,147.12 255.91,144.29 256.08,141.71 256.25,139.37 256.41,137.31 256.58,135.53 256.75,134.04 256.92,132.84 257.09,131.95 257.25,131.38 257.42,131.11 257.59,131.17 257.76,131.53 257.93,132.22 258.09,133.21 258.26,134.50 258.43,136.09 258.60,137.97 258.76,140.12 258.93,142.54 259.10,145.21 259.27,148.12 259.44,151.24 259.60,154.56 259.77,158.07 259.94,161.74 260.11,165.55 260.28,169.48 260.44,173.51 260.61,177.61 260.78,181.77 260.95,185.95 261.11,190.14 261.28,194.30 261.45,198.43 261.62,202.48 261.79,206.45 261.95,210.30 262.12,214.02 262.29,217.59 262.46,220.97 262.62,224.17 262.79,227.15 262.96,229.90 263.13,232.40 263.30,234.64 263.46,236.62 263.63,238.30 263.80,239.70 263.97,240.79 264.14,241.57 264.30,242.05 264.47,242.20 264.64,242.05 264.81,241.57 264.97,240.79 265.14,239.70 265.31,238.30 265.48,236.62 265.65,234.64 265.81,232.40 265.98,229.90 266.15,227.15 266.32,224.17 266.48,220.97 266.65,217.59 266.82,214.02 266.99,210.30 267.16,206.45 267.32,202.48 267.49,198.43 267.66,194.30 267.83,190.14 268.00,185.95 268.16,181.77 268.33,177.61 268.50,173.51 268.67,169.48 268.83,165.55 269.00,161.74 269.17,158.07 269.34,154.56 269.51,151.24 269.67,148.12 269.84,145.21 270.01,142.54 270.18,140.12 270.35,137.97 270.51,136.09 270.68,134.50 270.85,133.21 271.02,132.22 271.18,131.53 271.35,131.17 271.52,131.11 271.69,131.38 271.86,131.95 272.02,132.84 272.19,134.04 272.36,135.53 272.53,137.31 272.69,139.37 272.86,141.71 273.03,144.29 273.20,147.12 273.37,150.17 273.53,153.43 273.70,156.88 273.87,160.50 274.04,164.27 274.21,168.16 274.37,172.16 274.54,176.24 274.71,180.38 274.88,184.56 275.04,188.74 275.21,192.92 275.38,197.06 275.55,201.14 275.72,205.14 275.88,209.03 276.05,212.80 276.22,216.42 276.39,219.87 276.55,223.13 276.72,226.18 276.89,229.01 277.06,231.59 277.23,233.93 277.39,235.99 277.56,237.77 277.73,239.26 277.90,240.46 278.07,241.35 278.23,241.92 278.40,242.19 278.57,242.13 278.74,241.77 278.90,241.08 279.07,240.09 279.24,238.80 279.41,237.21 279.58,235.33 279.74,233.18 279.91,230.76 280.08,228.09 280.25,225.18 280.42,222.06 280.58,218.74 280.75,215.23 280.92,211.56 281.09,207.75 281.25,203.82 281.42,199.79 281.59,195.69 281.76,191.53 281.93,187.35 282.09,183.16 282.26,179.00 282.43,174.87 282.60,170.82 282.76,166.85 282.93,163.00 283.10,159.28 283.27,155.71 283.44,152.33 283.60,149.13 283.77,146.15 283.94,143.40 284.11,140.90 284.28,138.66 284.44,136.68 284.61,135.00 284.78,133.60 284.95,132.51 285.11,131.73 285.28,131.25 285.45,131.10 285.62,131.25 285.79,131.73 285.95,132.51 286.12,133.60 286.29,135.00 286.46,136.68 286.62,138.66 286.79,140.90 286.96,143.40 287.13,146.15 287.30,149.13 287.46,152.33 287.63,155.71 287.80,159.28 287.97,163.00 288.14,166.85 288.30,170.82 288.47,174.87 288.64,179.00 288.81,183.16 288.97,187.35 289.14,191.53 289.31,195.69 289.48,199.79 289.65,203.82 289.81,207.75 289.98,211.56 290.15,215.23 290.32,218.74 290.49,222.06 290.65,225.18 290.82,228.09 290.99,230.76 291.16,233.18 291.32,235.33 291.49,237.21 291.66,238.80 291.83,240.09 292.00,241.08 292.16,241.77 292.33,242.13 292.50,242.19 292.67,241.92 292.83,241.35 293.00,240.46 293.17,239.26 293.34,237.77 293.51,235.99 293.67,233.93 293.84,231.59 294.01,229.01 294.18,226.18 294.35,223.13 294.51,219.87 294.68,216.42 294.85,212.80 295.02,209.03 295.18,205.14 295.35,201.14 295.52,197.06 295.69,192.92 295.86,188.74 296.02,184.56 296.19,180.38 296.36,176.24 296.53,172.16 296.69,168.16 296.86,164.27 297.03,160.50 297.20,156.88 297.37,153.43 297.53,150.17 297.70,147.12 297.87,144.29 298.04,141.71 298.21,139.37 298.37,137.31 298.54,135.53 298.71,134.04 298.88,132.84 299.04,131.95 299.21,131.38 299.38,131.11 299.55,131.17 299.72,131.53 299.88,132.22 300.05,133.21 300.22,134.50 300.39,136.09 300.56,137.97 300.72,140.12 300.89,142.54 301.06,145.21 301.23,148.12 301.39,151.24 301.56,154.56 301.73,158.07 301.90,161.74 302.07,165.55 302.23,169.48 302.40,173.51 302.57,177.61 302.74,181.77 302.90,185.95 303.07,190.14 303.24,194.30 303.41,198.43 303.58,202.48 303.74,206.45 303.91,210.30 304.08,214.02 304.25,217.59 304.42,220.97 304.58,224.17 304.75,227.15 304.92,229.90 305.09,232.40 305.25,234.64 305.42,236.62 305.59,238.30 305.76,239.70 305.93,240.79 306.09,241.57 306.26,242.05 306.43,242.20 306.60,242.05 306.76,241.57 306.93,240.79 307.10,239.70 307.27,238.30 307.44,236.62 307.60,234.64 307.77,232.40 307.94,229.90 308.11,227.15 308.28,224.17 308.44,220.97 308.61,217.59 308.78,214.02 308.95,210.30 309.11,206.45 309.28,202.48 309.45,198.43 309.62,194.30 309.79,190.14 309.95,185.95 310.12,181.77 310.29,177.61 310.46,173.51 310.63,169.48 310.79,165.55 310.96,161.74 311.13,158.07 311.30,154.56 311.46,151.24 311.63,148.12 311.80,145.21 311.97,142.54 312.14,140.12 312.30,137.97 312.47,136.09 312.64,134.50 312.81,133.21 312.97,132.22 313.14,131.53 313.31,131.17 313.48,131.11 313.65,131.38 313.81,131.95 313.98,132.84 314.15,134.04 314.32,135.53 314.49,137.31 314.65,139.37 314.82,141.71 314.99,144.29 315.16,147.12 315.32,150.17 315.49,153.43 315.66,156.88 315.83,160.50 316.00,164.27 316.16,168.16 316.33,172.16 316.50,176.24 316.67,180.38 316.83,184.56 317.00,188.74 317.17,192.92 317.34,197.06 317.51,201.14 317.67,205.14 317.84,209.03 318.01,212.80 318.18,216.42 318.35,219.87 318.51,223.13 318.68,226.18 318.85,229.01 319.02,231.59 319.18,233.93 319.35,235.99 319.52,237.77 319.69,239.26 319.86,240.46 320.02,241.35 320.19,241.92 320.36,242.19 320.53,242.13 320.69,241.77 320.86,241.08 321.03,240.09 321.20,238.80 321.37,237.21 321.53,235.33 321.70,233.18 321.87,230.76 322.04,228.09 322.21,225.18 322.37,222.06 322.54,218.74 322.71,215.23 322.88,211.56 323.04,207.75 323.21,203.82 323.38,199.79 323.55,195.69 323.72,191.53 323.88,187.35 324.05,183.16 324.22,179.00 324.39,174.87 324.56,170.82 324.72,166.85 324.89,163.00 325.06,159.28 325.23,155.71 325.39,152.33 325.56,149.13 325.73,146.15 325.90,143.40 326.07,140.90 326.23,138.66 326.40,136.68 326.57,135.00 326.74,133.60 326.90,132.51 327.07,131.73 327.24,131.25 327.41,131.10 327.58,131.25 327.74,131.73 327.91,132.51 328.08,133.60 328.25,135.00 328.42,136.68 328.58,138.66 328.75,140.90 328.92,143.40 329.09,146.15 329.25,149.13 329.42,152.33 329.59,155.71 329.76,159.28 329.93,163.00 330.09,166.85 330.26,170.82 330.43,174.87 330.60,179.00 330.76,183.16 330.93,187.35 331.10,191.53 331.27,195.69 331.44,199.79 331.60,203.82 331.77,207.75 331.94,211.56 332.11,215.23 332.28,218.74 332.44,222.06 332.61,225.18 332.78,228.09 332.95,230.76 333.11,233.18 333.28,235.33 333.45,237.21 333.62,238.80 333.79,240.09 333.95,241.08 334.12,241.77 334.29,242.13 334.46,242.19 334.63,241.92 334.79,241.35 334.96,240.46 335.13,239.26 335.30,237.77 335.46,235.99 335.63,233.93 335.80,231.59 335.97,229.01 336.14,226.18 336.30,223.13 336.47,219.87 336.64,216.42 336.81,212.80 336.97,209.03 337.14,205.14 337.31,201.14 337.48,197.06 337.65,192.92 337.81,188.74 337.98,184.56 338.15,180.38 338.32,176.24 338.49,172.16 338.65,168.16 338.82,164.27 338.99,160.50 339.16,156.88 339.32,153.43 339.49,150.17 339.66,147.12 339.83,144.29 340.00,141.71 340.16,139.37 340.33,137.31 340.50,135.53 340.67,134.04 340.84,132.84 341.00,131.95 341.17,131.38 341.34,131.11 341.51,131.17 341.67,131.53 341.84,132.22 342.01,133.21 342.18,134.50 342.35,136.09 342.51,137.97 342.68,140.12 342.85,142.54 343.02,145.21 343.18,148.12 343.35,151.24 343.52,154.56 343.69,158.07 343.86,161.74 344.02,165.55 344.19,169.48 344.36,173.51 344.53,177.61 344.70,181.77 344.86,185.95 345.03,190.14 345.20,194.30 345.37,198.43 345.53,202.48 345.70,206.45 345.87,210.30 346.04,214.02 346.21,217.59 346.37,220.97 346.54,224.17 346.71,227.15 346.88,229.90 347.04,232.40 347.21,234.64 347.38,236.62 347.55,238.30 347.72,239.70 347.88,240.79 348.05,241.57 348.22,242.05 348.39,242.20 348.56,242.05 348.72,241.57 348.89,240.79 349.06,239.70 349.23,238.30 349.39,236.62 349.56,234.64 349.73,232.40 349.90,229.90 350.07,227.15 350.23,224.17 350.40,220.97 350.57,217.59 350.74,214.02 350.91,210.30 351.07,206.45 351.24,202.48 351.41,198.43 351.58,194.30 351.74,190.14 351.91,185.95 352.08,181.77 352.25,177.61 352.42,173.51 352.58,169.48 352.75,165.55 352.92,161.74 353.09,158.07 353.25,154.56 353.42,151.24 353.59,148.12 353.76,145.21 353.93,142.54 354.09,140.12 354.26,137.97 354.43,136.09 354.60,134.50 354.77,133.21 354.93,132.22 355.10,131.53 355.27,131.17 355.44,131.11 355.60,131.38 355.77,131.95 355.94,132.84 356.11,134.04 356.28,135.53 356.44,137.31 356.61,139.37 356.78,141.71 356.95,144.29 357.11,147.12 357.28,150.17 357.45,153.43 357.62,156.88 357.79,160.50 357.95,164.27 358.12,168.16 358.29,172.16 358.46,176.24 358.63,180.38 358.79,184.56 358.96,188.74 359.13,192.92 359.30,197.06 359.46,201.14 359.63,205.14 359.80,209.03 359.97,212.80 360.14,216.42 360.30,219.87 360.47,223.13 360.64,226.18 360.81,229.01 360.98,231.59 361.14,233.93 361.31,235.99 361.48,237.77 361.65,239.26 361.81,240.46 361.98,241.35 362.15,241.92 362.32,242.19 362.49,242.13 362.65,241.77 362.82,241.08 362.99,240.09 363.16,238.80 363.32,237.21 363.49,235.33 363.66,233.18 363.83,230.76 364.00,228.09 364.16,225.18 364.33,222.06 364.50,218.74 364.67,215.23 364.84,211.56 365.00,207.75 365.17,203.82 365.34,199.79 365.51,195.69 365.67,191.53 365.84,187.35 366.01,183.16 366.18,179.00 366.35,174.87 366.51,170.82 366.68,166.85 366.85,163.00 367.02,159.28 367.18,155.71 367.35,152.33 367.52,149.13 367.69,146.15 367.86,143.40 368.02,140.90 368.19,138.66 368.36,136.68 368.53,135.00 368.70,133.60 368.86,132.51 369.03,131.73 369.20,131.25 369.37,131.10 369.53,131.25 369.70,131.73 369.87,132.51 370.04,133.60 370.21,135.00 370.37,136.68 370.54,138.66 370.71,140.90 370.88,143.40 371.05,146.15 371.21,149.13 371.38,152.33 371.55,155.71 371.72,159.28 371.88,163.00 372.05,166.85 372.22,170.82 372.39,174.87 372.56,179.00 372.72,183.16 372.89,187.35 373.06,191.53 373.23,195.69 373.39,199.79 373.56,203.82 373.73,207.75 373.90,211.56 374.07,215.23 374.23,218.74 374.40,222.06 374.57,225.18 374.74,228.09 374.91,230.76 375.07,233.18 375.24,235.33 375.41,237.21 375.58,238.80 375.74,240.09 375.91,241.08 376.08,241.77 376.25,242.13 376.42,242.19 376.58,241.92 376.75,241.35 376.92,240.46 377.09,239.26 377.25,237.77 377.42,235.99 377.59,233.93 377.76,231.59 377.93,229.01 378.09,226.18 378.26,223.13 378.43,219.87 378.60,216.42 378.77,212.80 378.93,209.03 379.10,205.14 379.27,201.14 379.44,197.06 379.60,192.92 379.77,188.74 379.94,184.56 380.11,180.38 380.28,176.24 380.44,172.16 380.61,168.16 380.78,164.27 380.95,160.50 381.12,156.88 381.28,153.43 381.45,150.17 381.62,147.12 381.79,144.29 381.95,141.71 382.12,139.37 382.29,137.31 382.46,135.53 382.63,134.04 382.79,132.84 382.96,131.95 383.13,131.38 383.30,131.11 383.46,131.17 383.63,131.53 383.80,132.22 383.97,133.21 384.14,134.50 384.30,136.09 384.47,137.97 384.64,140.12 384.81,142.54 384.98,145.21 385.14,148.12 385.31,151.24 385.48,154.56 385.65,158.07 385.81,161.74 385.98,165.55 386.15,169.48 386.32,173.51 386.49,177.61 386.65,181.77 386.82,185.95 386.99,190.14 387.16,194.30 387.32,198.43 387.49,202.48 387.66,206.45 387.83,210.30 388.00,214.02 388.16,217.59 388.33,220.97 388.50,224.17 388.67,227.15 388.84,229.90 389.00,232.40 389.17,234.64 389.34,236.62 389.51,238.30 389.67,239.70 389.84,240.79 390.01,241.57 390.18,242.05 390.35,242.20 390.51,242.05 390.68,241.57 390.85,240.79 391.02,239.70 391.19,238.30 391.35,236.62 391.52,234.64 391.69,232.40 391.86,229.90 392.02,227.15 392.19,224.17 392.36,220.97 392.53,217.59 392.70,214.02 392.86,210.30 393.03,206.45 393.20,202.48 393.37,198.43 393.53,194.30 393.70,190.14 393.87,185.95 394.04,181.77 394.21,177.61 394.37,173.51 394.54,169.48 394.71,165.55 394.88,161.74 395.05,158.07 395.21,154.56 395.38,151.24 395.55,148.12 395.72,145.21 395.88,142.54 396.05,140.12 396.22,137.97 396.39,136.09 396.56,134.50 396.72,133.21 396.89,132.22 397.06,131.53 397.23,131.17 397.39,131.11 397.56,131.38 397.73,131.95 397.90,132.84 398.07,134.04 398.23,135.53 398.40,137.31 398.57,139.37 398.74,141.71 398.91,144.29 399.07,147.12 399.24,150.17 399.41,153.43 399.58,156.88 399.74,160.50 399.91,164.27 400.08,168.16 400.25,172.16 400.42,176.24 400.58,180.38 400.75,184.56 400.92,188.74 401.09,192.92 401.25,197.06 401.42,201.14 401.59,205.14 401.76,209.03 401.93,212.80 402.09,216.42 402.26,219.87 402.43,223.13 402.60,226.18 402.77,229.01 402.93,231.59 403.10,233.93 403.27,235.99 403.44,237.77 403.60,239.26 403.77,240.46 403.94,241.35 404.11,241.92 404.28,242.19 404.44,242.13 404.61,241.77 404.78,241.08 404.95,240.09 405.12,238.80 405.28,237.21 405.45,235.33 405.62,233.18 405.79,230.76 405.95,228.09 406.12,225.18 406.29,222.06 406.46,218.74 406.63,215.23 406.79,211.56 406.96,207.75 407.13,203.82 407.30,199.79 407.46,195.69 407.63,191.53 407.80,187.35 407.97,183.16 408.14,179.00 408.30,174.87 408.47,170.82 408.64,166.85 408.81,163.00 408.98,159.28 409.14,155.71 409.31,152.33 409.48,149.13 409.65,146.15 409.81,143.40 409.98,140.90 410.15,138.66 410.32,136.68 410.49,135.00 410.65,133.60 410.82,132.51 410.99,131.73 411.16,131.25 411.33,131.10 411.49,131.25 411.66,131.73 411.83,132.51 412.00,133.60 412.16,135.00 412.33,136.68 412.50,138.66 412.67,140.90 412.84,143.40 413.00,146.15 413.17,149.13 413.34,152.33 413.51,155.71 413.67,159.28 413.84,163.00 414.01,166.85 414.18,170.82 414.35,174.87 414.51,179.00 414.68,183.16 414.85,187.35 415.02,191.53 415.19,195.69 415.35,199.79 415.52,203.82 415.69,207.75 415.86,211.56 416.02,215.23 416.19,218.74 416.36,222.06 416.53,225.18 416.70,228.09 416.86,230.76 417.03,233.18 417.20,235.33 417.37,237.21 417.53,238.80 417.70,240.09 417.87,241.08 418.04,241.77 418.21,242.13 418.37,242.19 418.54,241.92 418.71,241.35 418.88,240.46 419.05,239.26 419.21,237.77 419.38,235.99 419.55,233.93 419.72,231.59 419.88,229.01 420.05,226.18 420.22,223.13 420.39,219.87 420.56,216.42 420.72,212.80 420.89,209.03 421.06,205.14 421.23,201.14 421.40,197.06 421.56,192.92 421.73,188.74 421.90,184.56 422.07,180.38 422.23,176.24 422.40,172.16 422.57,168.16 422.74,164.27 422.91,160.50 423.07,156.88 423.24,153.43 423.41,150.17 423.58,147.12 423.74,144.29 423.91,141.71 424.08,139.37 424.25,137.31 424.42,135.53 424.58,134.04 424.75,132.84 424.92,131.95 425.09,131.38 425.26,131.11 425.42,131.17 425.59,131.53 425.76,132.22 425.93,133.21 426.09,134.50 426.26,136.09 426.43,137.97 426.60,140.12 426.77,142.54 426.93,145.21 427.10,148.12 427.27,151.24 427.44,154.56 427.60,158.07 427.77,161.74 427.94,165.55 428.11,169.48 428.28,173.51 428.44,177.61 428.61,181.77 428.78,185.95 428.95,190.14 429.12,194.30 429.28,198.43 429.45,202.48 429.62,206.45 429.79,210.30 429.95,214.02 430.12,217.59 430.29,220.97 430.46,224.17 430.63,227.15 430.79,229.90 430.96,232.40 431.13,234.64 431.30,236.62 431.47,238.30 431.63,239.70 431.80,240.79 431.97,241.57 432.14,242.05 432.30,242.20 432.47,242.05 432.64,241.57 432.81,240.79 432.98,239.70 433.14,238.30 433.31,236.62 433.48,234.64 433.65,232.40 433.81,229.90 433.98,227.15 434.15,224.17 434.32,220.97 434.49,217.59 434.65,214.02 434.82,210.30 434.99,206.45 435.16,202.48 435.33,198.43 435.49,194.30 435.66,190.14 435.83,185.95 436.00,181.77 436.16,177.61 436.33,173.51 436.50,169.48 436.67,165.55 436.84,161.74 437.00,158.07 437.17,154.56 437.34,151.24 437.51,148.12 437.67,145.21 437.84,142.54 438.01,140.12 438.18,137.97 438.35,136.09 438.51,134.50 438.68,133.21 438.85,132.22 439.02,131.53 439.19,131.17 439.35,131.11 439.52,131.38 439.69,131.95 439.86,132.84 440.02,134.04 440.19,135.53 440.36,137.31 440.53,139.37 440.70,141.71 440.86,144.29 441.03,147.12 441.20,150.17 441.37,153.43 441.54,156.88 441.70,160.50 441.87,164.27 442.04,168.16 442.21,172.16 442.37,176.24 442.54,180.38 442.71,184.56 442.88,188.74 443.05,192.92 443.21,197.06 443.38,201.14 443.55,205.14 443.72,209.03 443.88,212.80 444.05,216.42 444.22,219.87 444.39,223.13 444.56,226.18 444.72,229.01 444.89,231.59 445.06,233.93 445.23,235.99 445.40,237.77 445.56,239.26 445.73,240.46 445.90,241.35 446.07,241.92 446.23,242.19 446.40,242.13 446.57,241.77 446.74,241.08 446.91,240.09 447.07,238.80 447.24,237.21 447.41,235.33 447.58,233.18 447.74,230.76 447.91,228.09 448.08,225.18 448.25,222.06 448.42,218.74 448.58,215.23 448.75,211.56 448.92,207.75 449.09,203.82 449.26,199.79 449.42,195.69 449.59,191.53 449.76,187.35 449.93,183.16 450.09,179.00 450.26,174.87 450.43,170.82 450.60,166.85 450.77,163.00 450.93,159.28 451.10,155.71 451.27,152.33 451.44,149.13 451.61,146.15 451.77,143.40 451.94,140.90 452.11,138.66 452.28,136.68 452.44,135.00 452.61,133.60 452.78,132.51 452.95,131.73 453.12,131.25 453.28,131.10 453.45,131.25 453.62,131.73 453.79,132.51 453.95,133.60 454.12,135.00 454.29,136.68 454.46,138.66 454.63,140.90 454.79,143.40 454.96,146.15 455.13,149.13 455.30,152.33 455.47,155.71 455.63,159.28 455.80,163.00 455.97,166.85 456.14,170.82 456.30,174.87 456.47,179.00 456.64,183.16 456.81,187.35 456.98,191.53 457.14,195.69 457.31,199.79 457.48,203.82 457.65,207.75 457.81,211.56 457.98,215.23 458.15,218.74 458.32,222.06 458.49,225.18 458.65,228.09 458.82,230.76 458.99,233.18 459.16,235.33 459.33,237.21 459.49,238.80 459.66,240.09 459.83,241.08 460.00,241.77 460.16,242.13 460.33,242.19 460.50,241.92 460.67,241.35 460.84,240.46 461.00,239.26 461.17,237.77 461.34,235.99 461.51,233.93 461.68,231.59 461.84,229.01 462.01,226.18 462.18,223.13 462.35,219.87 462.51,216.42 462.68,212.80 462.85,209.03 463.02,205.14 463.19,201.14 463.35,197.06 463.52,192.92 463.69,188.74 463.86,184.56 464.02,180.38 464.19,176.24 464.36,172.16 464.53,168.16 464.70,164.27 464.86,160.50 465.03,156.88 465.20,153.43 465.37,150.17 465.54,147.12 465.70,144.29 465.87,141.71 466.04,139.37 466.21,137.31 466.37,135.53 466.54,134.04 466.71,132.84 466.88,131.95 467.05,131.38 467.21,131.11 467.38,131.17 467.55,131.53 467.72,132.22 467.88,133.21 468.05,134.50 468.22,136.09 468.39,137.97 468.56,140.12 468.72,142.54 468.89,145.21 469.06,148.12 469.23,151.24 469.40,154.56 469.56,158.07 469.73,161.74 469.90,165.55 470.07,169.48 470.23,173.51 470.40,177.61 470.57,181.77 470.74,185.95 470.91,190.14 471.07,194.30 471.24,198.43 471.41,202.48 471.58,206.45 471.75,210.30 471.91,214.02 472.08,217.59 472.25,220.97 472.42,224.17 472.58,227.15 472.75,229.90 472.92,232.40 473.09,234.64 473.26,236.62 473.42,238.30 473.59,239.70 473.76,240.79 473.93,241.57 474.09,242.05 474.26,242.20 474.43,242.05 474.60,241.57 474.77,240.79 474.93,239.70 475.10,238.30 475.27,236.62 475.44,234.64 475.61,232.40 475.77,229.90 475.94,227.15 476.11,224.17 476.28,220.97 476.44,217.59 476.61,214.02 476.78,210.30 476.95,206.45 477.12,202.48 477.28,198.43 477.45,194.30 477.62,190.14 477.79,185.95 477.95,181.77 478.12,177.61 478.29,173.51 478.46,169.48 478.63,165.55 478.79,161.74 478.96,158.07 479.13,154.56 479.30,151.24 479.47,148.12 479.63,145.21 479.80,142.54 479.97,140.12 480.14,137.97 480.30,136.09 480.47,134.50 480.64,133.21 480.81,132.22 480.98,131.53 481.14,131.17 481.31,131.11 481.48,131.38 481.65,131.95 481.82,132.84 481.98,134.04 482.15,135.53 482.32,137.31 482.49,139.37 482.65,141.71 482.82,144.29 482.99,147.12 483.16,150.17 483.33,153.43 483.49,156.88 483.66,160.50 483.83,164.27 484.00,168.16 484.16,172.16 484.33,176.24 484.50,180.38 484.67,184.56 484.84,188.74 485.00,192.92 485.17,197.06 485.34,201.14 485.51,205.14 485.68,209.03 485.84,212.80 486.01,216.42 486.18,219.87 486.35,223.13 486.51,226.18 486.68,229.01 486.85,231.59 487.02,233.93 487.19,235.99 487.35,237.77 487.52,239.26 487.69,240.46 487.86,241.35 488.02,241.92 488.19,242.19 488.36,242.13 488.53,241.77 488.70,241.08 488.86,240.09 489.03,238.80 489.20,237.21 489.37,235.33 489.54,233.18 489.70,230.76 489.87,228.09 490.04,225.18 490.21,222.06 490.37,218.74 490.54,215.23 490.71,211.56 490.88,207.75 491.05,203.82 491.21,199.79 491.38,195.69 491.55,191.53 491.72,187.35 491.89,183.16 492.05,179.00 492.22,174.87 492.39,170.82 492.56,166.85 492.72,163.00 492.89,159.28 493.06,155.71 493.23,152.33 493.40,149.13 493.56,146.15 493.73,143.40 493.90,140.90 494.07,138.66 494.23,136.68 494.40,135.00 494.57,133.60 494.74,132.51 494.91,131.73 495.07,131.25 495.24,131.10 495.41,131.25 495.58,131.73 495.75,132.51 495.91,133.60 496.08,135.00 496.25,136.68 496.42,138.66 496.58,140.90 496.75,143.40 496.92,146.15 497.09,149.13 497.26,152.33 497.42,155.71 497.59,159.28 497.76,163.00 497.93,166.85 498.09,170.82 498.26,174.87 498.43,179.00 498.60,183.16 498.77,187.35 498.93,191.53 499.10,195.69 499.27,199.79 499.44,203.82 499.61,207.75 499.77,211.56 499.94,215.23 500.11,218.74 500.28,222.06 500.44,225.18 500.61,228.09 500.78,230.76 500.95,233.18 501.12,235.33 501.28,237.21 501.45,238.80 501.62,240.09 501.79,241.08 501.96,241.77 502.12,242.13 502.29,242.19 502.46,241.92 502.63,241.35 502.79,240.46 502.96,239.26 503.13,237.77 503.30,235.99 503.47,233.93 503.63,231.59 503.80,229.01 503.97,226.18 504.14,223.13 504.30,219.87 504.47,216.42 504.64,212.80 504.81,209.03 504.98,205.14 505.14,201.14 505.31,197.06 505.48,192.92 505.65,188.74 505.82,184.56 505.98,180.38 506.15,176.24 506.32,172.16 506.49,168.16 506.65,164.27 506.82,160.50 506.99,156.88 507.16,153.43 507.33,150.17 507.49,147.12 507.66,144.29 507.83,141.71 508.00,139.37 508.16,137.31 508.33,135.53 508.50,134.04 508.67,132.84 508.84,131.95 509.00,131.38 509.17,131.11 509.34,131.17 509.51,131.53 509.68,132.22 509.84,133.21 510.01,134.50 510.18,136.09 510.35,137.97 510.51,140.12 510.68,142.54 510.85,145.21 511.02,148.12 511.19,151.24 511.35,154.56 511.52,158.07 511.69,161.74 511.86,165.55 512.03,169.48 512.19,173.51 512.36,177.61 512.53,181.77 512.70,185.95 512.86,190.14 513.03,194.30 513.20,198.43 513.37,202.48 513.54,206.45 513.70,210.30 513.87,214.02 514.04,217.59 514.21,220.97 514.37,224.17 514.54,227.15 514.71,229.90 514.88,232.40 515.05,234.64 515.21,236.62 515.38,238.30 515.55,239.70 515.72,240.79 515.89,241.57 516.05,242.05 516.22,242.20 516.39,242.05 516.56,241.57 516.72,240.79 516.89,239.70 517.06,238.30 517.23,236.62 517.40,234.64 517.56,232.40 517.73,229.90 517.90,227.15 518.07,224.17 518.23,220.97 518.40,217.59 518.57,214.02 518.74,210.30 518.91,206.45 519.07,202.48 519.24,198.43 519.41,194.30 519.58,190.14 519.75,185.95 519.91,181.77 520.08,177.61 520.25,173.51 520.42,169.48 520.58,165.55 520.75,161.74 520.92,158.07 521.09,154.56 521.26,151.24 521.42,148.12 521.59,145.21 521.76,142.54 521.93,140.12 522.10,137.97 522.26,136.09 522.43,134.50 522.60,133.21 522.77,132.22 522.93,131.53 523.10,131.17 523.27,131.11 523.44,131.38 523.61,131.95 523.77,132.84 523.94,134.04 524.11,135.53 524.28,137.31 524.44,139.37 524.61,141.71 524.78,144.29 524.95,147.12 525.12,150.17 525.28,153.43 525.45,156.88 525.62,160.50 525.79,164.27 525.96,168.16 526.12,172.16 526.29,176.24 526.46,180.38 526.63,184.56 526.79,188.74 526.96,192.92 527.13,197.06 527.30,201.14 527.47,205.14 527.63,209.03 527.80,212.80 527.97,216.42 528.14,219.87 528.30,223.13 528.47,226.18 528.64,229.01 528.81,231.59 528.98,233.93 529.14,235.99 529.31,237.77 529.48,239.26 529.65,240.46 529.82,241.35 529.98,241.92 530.15,242.19 530.32,242.13 530.49,241.77 530.65,241.08 530.82,240.09 530.99,238.80 531.16,237.21 531.33,235.33 531.49,233.18 531.66,230.76 531.83,228.09 532.00,225.18 532.17,222.06 532.33,218.74 532.50,215.23 532.67,211.56 532.84,207.75 533.00,203.82 533.17,199.79 533.34,195.69 533.51,191.53 533.68,187.35 533.84,183.16 534.01,179.00 534.18,174.87 534.35,170.82 534.51,166.85 534.68,163.00 534.85,159.28 535.02,155.71 535.19,152.33 535.35,149.13 535.52,146.15 535.69,143.40 535.86,140.90 536.03,138.66 536.19,136.68 536.36,135.00 536.53,133.60 536.70,132.51 536.86,131.73 537.03,131.25 537.20,131.10"/>
<text transform="translate(82.94,255.00) rotate(0.2) scale(0.920,1)" text-anchor="middle" font-family="'Liberation Sans', Arial, Helvetica, sans-serif" font-size="9.6" fill="#222" stroke="#222" stroke-width="0.3" >0.1</text>
<text transform="translate(133.99,255.00) rotate(0.2) scale(0.920,1)" text-anchor="middle" font-family="'Liberation Sans', Arial, Helvetica, sans-serif" font-size="9.6" fill="#222" stroke="#222" stroke-width="0.3" >0.2</text>
<text transform="translate(184.46,255.00) rotate(0.2) scale(0.920,1)" text-anchor="middle" font-family="'Liberation Sans', Arial, Helvetica, sans-serif" font-size="9.6" fill="#222" stroke="#222" stroke-width="0.3" >0.3</text>
<text transform="translate(235.42,255.00) rotate(0.2) scale(0.920,1)" text-anchor="middle" font-family="'Liberation Sans', Arial, Helvetica, sans-serif" font-size="9.6" fill="#222" stroke="#222" stroke-width="0.3" >0.4</text>
<text transform="translate(285.21,255.00) rotate(0.2) scale(0.920,1)" text-anchor="middle" font-family="'Liberation Sans', Arial, Helvetica, sans-serif" font-size="9.6" fill="#222" stroke="#222" stroke-width="0.3" >0.5</text>
<text transform="translate(335.09,255.00) rotate(0.2) scale(0.920,1)" text-anchor="middle" font-family="'Liberation Sans', Arial, Helvetica, sans-serif" font-size="9.6" fill="#222" stroke="#222" stroke-width="0.3" >0.6</text>
<text transform="translate(385.93,255.00) rotate(0.2) scale(0.920,1)" text-anchor="middle" font-family="'Liberation Sans', Arial, Helvetica, sans-serif" font-size="9.6" fill="#222" stroke="#222" stroke-width="0.3" >0.7</text>
<text transform="translate(436.47,255.00) rotate(0.2) scale(0.920,1)" text-anchor="middle" font-family="'Liberation Sans', Arial, Helvetica, sans-serif" font-size="9.6" fill="#222" stroke="#222" stroke-width="0.3" >0.8</text>
<text transform="translate(487.84,255.00) rotate(0.2) scale(0.920,1)" text-anchor="middle" font-family="'Liberation Sans', Arial, Helvetica, sans-serif" font-size="9.6" fill="#222" stroke="#222" stroke-width="0.3" >0.9</text>
<text transform="translate(536.73,255.00) rotate(0.2) scale(0.920,1)" text-anchor="middle" font-family="'Liberation Sans', Arial, Helvetica, sans-serif" font-size="9.6" fill="#222" stroke="#222" stroke-width="0.3" >1.0</text>
<text transform="translate(30.90,140.93) rotate(0.2) scale(0.930,1)" text-anchor="end" font-family="'Liberation Sans', Arial, Helvetica, sans-serif" font-size="9.6" fill="#222" stroke="#222" stroke-width="0.3" >200</text>
<text transform="translate(30.90,165.49) rotate(0.2) scale(0.930,1)" text-anchor="end" font-family="'Liberation Sans', Arial, Helvetica, sans-serif" font-size="9.6" fill="#222" stroke="#222" stroke-width="0.3" >100</text>
<text transform="translate(30.90,190.05) rotate(0.2) scale(0.930,1)" text-anchor="end" font-family="'Liberation Sans', Arial, Helvetica, sans-serif" font-size="9.6" fill="#222" stroke="#222" stroke-width="0.3" >0</text>
<text transform="translate(30.90,214.61) rotate(0.2) scale(0.930,1)" text-anchor="end" font-family="'Liberation Sans', Arial, Helvetica, sans-serif" font-size="9.6" fill="#222" stroke="#222" stroke-width="0.3" >&#8722;<tspan dx="1.6">100</tspan></text>
<text transform="translate(30.90,239.17) rotate(0.2) scale(0.930,1)" text-anchor="end" font-family="'Liberation Sans', Arial, Helvetica, sans-serif" font-size="9.6" fill="#222" stroke="#222" stroke-width="0.3" >&#8722;<tspan dx="1.6">200</tspan></text>
<text transform="translate(285.75,265.00) rotate(0.2) scale(0.915,1)" text-anchor="middle" font-family="'Liberation Sans', Arial, Helvetica, sans-serif" font-size="9.6" fill="#222" stroke="#222" stroke-width="0.3" >Time (s)</text>
<text transform="translate(10.5,186.0) rotate(-90)" text-anchor="middle" font-family="'Liberation Serif', 'Times New Roman', serif" font-size="11" fill="#222" stroke="#222" stroke-width="0.3"><tspan font-style="italic" font-size="12">f</tspan><tspan font-size="8.5" dy="4.2" dx="0.2" font-style="italic">t</tspan><tspan dy="-4.2" dx="0.3">(</tspan><tspan font-style="italic">t</tspan>)</text>
<text x="4.4" y="122.7" font-family="'Liberation Sans', Arial, Helvetica, sans-serif" font-size="11" font-weight="bold" fill="#000">b)</text>
<rect x="202.4" y="110.5" width="181.1" height="13.9" fill="#fff" stroke="#8f8f8f" stroke-width="1"/>
<line x1="204.00" y1="117.20" x2="232.80" y2="117.20" stroke="#ff0000" stroke-width="1.1" />
<polygon points="218.20,113.80 223.50,117.30 218.20,120.80 212.90,117.30" fill="#ff0000"/>
<text y="120.60" transform="rotate(0.2,234.30,120.60)" font-family="'Liberation Sans', Arial, Helvetica, sans-serif" font-size="9.4" fill="#222" stroke="#333" stroke-width="0.25"><tspan x="234.30">8</tspan><tspan x="246.20">cos</tspan><tspan x="263.10">(</tspan><tspan x="265.80">8</tspan><tspan x="280.00" font-style="italic" font-weight="bold">t</tspan><tspan x="283.50">)</tspan></text><text transform="translate(239.80,120.60) rotate(0.2) scale(1.08,0.8)" font-family="'Liberation Serif', 'Times New Roman', serif" font-size="9.6" fill="#555" stroke="#555" stroke-width="0.15">&#960;</text><text transform="translate(271.60,120.60) rotate(0.2) scale(1.08,0.8)" font-family="'Liberation Serif', 'Times New Roman', serif" font-size="9.6" fill="#555" stroke="#555" stroke-width="0.15">&#960;</text>
<line x1="289.00" y1="117.30" x2="319.00" y2="117.30" stroke="#0000ff" stroke-width="1.1" />
<polygon points="304.00,114.00 308.50,117.30 304.00,120.60 299.50,117.30" fill="#0000ff"/>
<text y="120.60" transform="rotate(0.2,320.30,120.60)" font-family="'Liberation Sans', Arial, Helvetica, sans-serif" font-size="9.4" fill="#222" stroke="#333" stroke-width="0.25"><tspan x="320.30">72</tspan><tspan x="337.10">cos</tspan><tspan x="352.00">(</tspan><tspan x="354.90">72</tspan><tspan x="372.70" font-style="italic" font-weight="bold">t</tspan><tspan x="376.70">)</tspan></text><text transform="translate(330.50,120.60) rotate(0.2) scale(1.08,0.8)" font-family="'Liberation Serif', 'Times New Roman', serif" font-size="9.6" fill="#555" stroke="#555" stroke-width="0.15">&#960;</text><text transform="translate(364.90,120.60) rotate(0.2) scale(1.08,0.8)" font-family="'Liberation Serif', 'Times New Roman', serif" font-size="9.6" fill="#555" stroke="#555" stroke-width="0.15">&#960;</text>
</svg></body></html>
